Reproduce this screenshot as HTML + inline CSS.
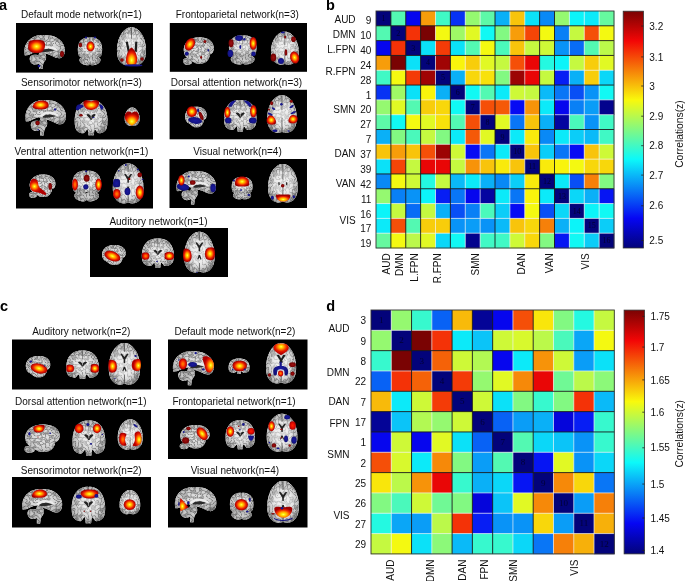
<!DOCTYPE html>
<html><head><meta charset="utf-8"><title>Figure</title>
<style>
html,body{margin:0;padding:0;background:#fff;}
body{width:685px;height:581px;overflow:hidden;}
svg{display:block;}
svg text{font-family:"Liberation Sans", Arial, Helvetica, sans-serif;}
</style></head><body>
<svg width="685" height="581" viewBox="0 0 685 581">
<defs>
<radialGradient id="hot" cx="50%" cy="50%" r="50%">
<stop offset="0" stop-color="#ffff50"/><stop offset="0.2" stop-color="#ffdc00"/>
<stop offset="0.45" stop-color="#ff8000"/><stop offset="0.72" stop-color="#e81800"/>
<stop offset="1" stop-color="#9a0000"/></radialGradient>
<radialGradient id="gm" cx="50%" cy="50%" r="55%">
<stop offset="0" stop-color="#e4e4e4"/><stop offset="0.55" stop-color="#d6d6d6"/>
<stop offset="0.85" stop-color="#bebebe"/><stop offset="1" stop-color="#a0a0a0"/></radialGradient>
<radialGradient id="gm2" cx="50%" cy="50%" r="55%">
<stop offset="0" stop-color="#cfcfcf"/><stop offset="1" stop-color="#b0b0b0"/></radialGradient>
<radialGradient id="hotlow" cx="50%" cy="68%" r="55%" fx="50%" fy="70%">
<stop offset="0" stop-color="#ffff60"/><stop offset="0.2" stop-color="#ffe400"/>
<stop offset="0.45" stop-color="#ff9000"/><stop offset="0.72" stop-color="#ee2000"/>
<stop offset="1" stop-color="#a00000"/></radialGradient>
<radialGradient id="hotl" cx="28%" cy="47%" r="42%">
<stop offset="0" stop-color="#ffff50"/><stop offset="0.16" stop-color="#ffdc00"/>
<stop offset="0.38" stop-color="#ff7000"/><stop offset="0.65" stop-color="#e01400"/>
<stop offset="1" stop-color="#b00000"/></radialGradient>
<radialGradient id="warm" cx="50%" cy="50%" r="50%">
<stop offset="0" stop-color="#ff8a00"/><stop offset="0.35" stop-color="#ff5000"/>
<stop offset="0.7" stop-color="#e01000"/><stop offset="1" stop-color="#a00000"/></radialGradient>
<radialGradient id="hottop" cx="50%" cy="28%" r="60%">
<stop offset="0" stop-color="#ffff60"/><stop offset="0.15" stop-color="#ffe000"/>
<stop offset="0.38" stop-color="#ff8000"/><stop offset="0.65" stop-color="#e81800"/>
<stop offset="1" stop-color="#b00000"/></radialGradient>
<radialGradient id="hotr" cx="72%" cy="55%" r="55%">
<stop offset="0" stop-color="#ffff60"/><stop offset="0.18" stop-color="#ffe000"/>
<stop offset="0.42" stop-color="#ff8000"/><stop offset="0.72" stop-color="#e81800"/>
<stop offset="1" stop-color="#b00000"/></radialGradient>
<radialGradient id="hotbl" cx="30%" cy="62%" r="55%">
<stop offset="0" stop-color="#ffff60"/><stop offset="0.18" stop-color="#ffe000"/>
<stop offset="0.42" stop-color="#ff8000"/><stop offset="0.72" stop-color="#e81800"/>
<stop offset="1" stop-color="#b00000"/></radialGradient>
<radialGradient id="redb" cx="50%" cy="50%" r="50%">
<stop offset="0" stop-color="#ff2000"/><stop offset="0.6" stop-color="#e00800"/>
<stop offset="1" stop-color="#a00000"/></radialGradient>
<radialGradient id="dred" cx="50%" cy="50%" r="50%">
<stop offset="0" stop-color="#a01010"/><stop offset="1" stop-color="#700000"/></radialGradient>
<radialGradient id="blu" cx="50%" cy="50%" r="50%">
<stop offset="0" stop-color="#1a1aa0"/><stop offset="1" stop-color="#12127a"/></radialGradient>
<linearGradient id="jet" x1="0" y1="0" x2="0" y2="1"><stop offset="0.0000" stop-color="#7a0303"/><stop offset="0.0625" stop-color="#b60404"/><stop offset="0.1250" stop-color="#f30606"/><stop offset="0.1875" stop-color="#f54307"/><stop offset="0.2500" stop-color="#f68009"/><stop offset="0.3125" stop-color="#f8bc0a"/><stop offset="0.3750" stop-color="#f9f90c"/><stop offset="0.4375" stop-color="#bef947"/><stop offset="0.5000" stop-color="#82f982"/><stop offset="0.5625" stop-color="#47f9be"/><stop offset="0.6250" stop-color="#0cf9f9"/><stop offset="0.6875" stop-color="#0abcf8"/><stop offset="0.7500" stop-color="#0980f6"/><stop offset="0.8125" stop-color="#0743f5"/><stop offset="0.8750" stop-color="#0606f3"/><stop offset="0.9375" stop-color="#0404b6"/><stop offset="1.0000" stop-color="#03037a"/></linearGradient>
<filter id="tex" x="0" y="0" width="1" height="1" color-interpolation-filters="sRGB">
<feTurbulence type="turbulence" baseFrequency="0.10" numOctaves="1" seed="7" result="t"/>
<feColorMatrix in="t" type="matrix" values="1.6 0 0 0 0.64  1.6 0 0 0 0.64  1.6 0 0 0 0.64  0 0 0 0 1" result="g0"/>
<feGaussianBlur in="g0" stdDeviation="1.3" result="g"/>
<feComposite in="g" in2="SourceAlpha" operator="in" result="g2"/>
<feBlend in="g2" in2="SourceGraphic" mode="multiply"/>
</filter>
<filter id="wm" x="-50%" y="-50%" width="200%" height="200%"><feGaussianBlur stdDeviation="7"/></filter>
</defs>
<rect x="0" y="0" width="685" height="581" fill="#fff"/>

<text x="-1.0" y="9.9" font-size="14.5" font-weight="bold" fill="#000">a</text>
<text x="326.0" y="10.0" font-size="14.5" font-weight="bold" fill="#000">b</text>
<text x="0.0" y="310.8" font-size="14.5" font-weight="bold" fill="#000">c</text>
<text x="326.2" y="310.9" font-size="14.5" font-weight="bold" fill="#000">d</text>
<rect x="16.00" y="23.00" width="137.00" height="49.60" fill="#000"/>
<text x="81.50" y="18.00" font-size="10" fill="#111" text-anchor="middle">Default mode network(n=1)</text>
<g transform="translate(16.00,23.00)">
<g transform="translate(8.00,12.00) scale(0.4100,0.3400)">
<g filter="url(#tex)">
<path d="M2,60 C0,50 1,38 3,32 C6,22 12,12 24,5 C32,1 40,0 50,0 C60,0 70,1 80,8 C90,15 97,25 99,38 C100,48 99,58 95,63 C91,68 86,69 82,68 C76,66 72,63 66,60 C60,57 54,55 48,54 C42,53 37,50 33,48 C28,50 22,52 17,55 C12,58 7,61 2,60 Z" fill="url(#gm)"/>
<path d="M14,70 C14,60 22,57 30,58 C38,59 42,66 41,74 C40,82 35,87 27,87 C19,87 14,80 14,70 Z" fill="url(#gm2)"/>
<path d="M37,52 C43,50 51,52 53,58 C55,65 54,73 50,78 L47,84 L45,100 L37,100 L37,84 C35,76 34,62 37,52 Z" fill="url(#gm2)"/>
</g>
<path d="M43,46 C50,39 64,38 75,45 C66,49 54,51 43,49 Z" fill="#2a2a2a"/>
<path d="M36,44 C44,30 64,28 80,40 C83,43 82,47 78,46 C66,36 50,36 40,47 Z" fill="#ececec"/>
</g>
<g transform="translate(61.00,14.00) scale(0.2600,0.2900)">
<g filter="url(#tex)">
<path d="M50,3 C38,0 18,4 8,20 C2,32 2,50 6,62 C10,70 20,72 30,70 L50,68 L70,70 C80,72 90,70 94,62 C98,50 98,32 92,20 C82,4 62,0 50,3 Z" fill="url(#gm)"/>
<path d="M10,76 C14,67 40,67 50,71 C60,67 86,67 90,76 C94,88 76,99 56,97 L50,93 L44,97 C24,99 6,88 10,76 Z" fill="url(#gm2)"/>
</g>
<ellipse cx="50" cy="38" rx="30" ry="20" fill="#fff" opacity="0.4" filter="url(#wm)"/>
<path d="M50,3 L50,30" stroke="#555" stroke-width="2"/>
</g>
<g transform="translate(100.00,4.00) scale(0.3100,0.3900)">
<g filter="url(#tex)">
<path d="M50,1 C62,0 76,8 86,22 C95,36 99,54 96,72 C93,88 80,99 62,99 L50,97 L38,99 C20,99 7,88 4,72 C1,54 5,36 14,22 C24,8 38,0 50,1 Z" fill="url(#gm)"/>
</g>
<ellipse cx="50" cy="52" rx="33" ry="35" fill="#fff" opacity="0.5" filter="url(#wm)"/>
<path d="M50,2 L50,30 M50,80 L50,97" stroke="#4a4a4a" stroke-width="2"/>
<path d="M31,38 L38,37 L45,62 L38,65 Z M62,37 L69,38 L67,65 L60,62 Z" fill="#1c1c1c"/>
</g>
<path d="M12.5,20 C13,17 18,16.5 24,17 C28,17.5 29.5,19 29,23 C28.5,27 27,30 22,30 C16,30.5 12.5,28 12,25 Z" fill="url(#hot)"/>
<ellipse cx="46.00" cy="31.00" rx="2.00" ry="3.00" fill="url(#dred)"/>
<ellipse cx="23.00" cy="43.00" rx="1.30" ry="1.30" fill="url(#blu)"/>
<ellipse cx="74.50" cy="23.50" rx="4.00" ry="5.00" fill="url(#hot)"/>
<ellipse cx="64.40" cy="22.00" rx="1.80" ry="2.20" fill="url(#dred)"/>
<ellipse cx="70.00" cy="14.50" rx="1.20" ry="1.00" fill="url(#blu)"/>
<ellipse cx="79.00" cy="14.50" rx="1.20" ry="1.00" fill="url(#blu)"/>
<path d="M115.5,24.5 C118.5,26 121.5,32 121.2,37 C121,41 118.5,42.8 115.5,42.8 C112.5,42.8 110,41 110,37 C110,32 112.5,26 115.5,24.5 Z" fill="url(#hotlow)"/>
<ellipse cx="106.00" cy="37.00" rx="1.80" ry="1.80" fill="url(#dred)"/>
<ellipse cx="126.00" cy="36.00" rx="1.80" ry="1.80" fill="url(#dred)"/>
<ellipse cx="117.50" cy="42.40" rx="9.00" ry="1.10" fill="url(#blu)"/>
</g>
<rect x="169.80" y="23.00" width="137.20" height="48.80" fill="#000"/>
<text x="237.25" y="18.00" font-size="10" fill="#111" text-anchor="middle">Frontoparietal network(n=3)</text>
<g transform="translate(169.80,23.00)">
<g transform="translate(12.80,13.70) scale(0.3170,0.2900)">
<g filter="url(#tex)">
<path d="M4,50 C2,34 10,16 26,8 C42,0 64,0 80,8 C93,15 100,29 98,44 C97,53 93,59 86,61 C85,72 80,84 70,90 C60,95 46,95 38,90 C30,85 26,80 20,76 C10,72 5,62 4,50 Z" fill="url(#gm)"/>
<path d="M2,82 C2,74 12,72 22,76 C30,80 32,88 28,92 C22,98 10,98 5,93 C2,90 1,86 2,82 Z" fill="url(#gm2)"/>
</g>
</g>
<g transform="translate(58.20,11.80) scale(0.2940,0.3050)">
<g filter="url(#tex)">
<path d="M50,3 C38,0 18,4 8,20 C2,32 2,50 6,62 C10,70 20,72 30,70 L50,68 L70,70 C80,72 90,70 94,62 C98,50 98,32 92,20 C82,4 62,0 50,3 Z" fill="url(#gm)"/>
<path d="M10,76 C14,67 40,67 50,71 C60,67 86,67 90,76 C94,88 76,99 56,97 L50,93 L44,97 C24,99 6,88 10,76 Z" fill="url(#gm2)"/>
</g>
<ellipse cx="50" cy="38" rx="30" ry="20" fill="#fff" opacity="0.4" filter="url(#wm)"/>
<path d="M50,3 L50,30" stroke="#555" stroke-width="2"/>
</g>
<g transform="translate(100.30,8.50) scale(0.2950,0.3350)">
<g filter="url(#tex)">
<path d="M50,1 C62,0 76,8 86,22 C95,36 99,54 96,72 C93,88 80,99 62,99 L50,97 L38,99 C20,99 7,88 4,72 C1,54 5,36 14,22 C24,8 38,0 50,1 Z" fill="url(#gm)"/>
</g>
<ellipse cx="50" cy="52" rx="33" ry="35" fill="#fff" opacity="0.5" filter="url(#wm)"/>
<path d="M50,2 L50,40 M50,60 L50,97" stroke="#4a4a4a" stroke-width="2"/>
</g>
<ellipse cx="20.20" cy="21.30" rx="4.60" ry="6.60" fill="url(#hot)" transform="rotate(30.0 20.20 21.30)"/>
<ellipse cx="17.00" cy="30.70" rx="2.00" ry="2.00" fill="url(#blu)"/>
<ellipse cx="35.10" cy="18.40" rx="1.50" ry="1.50" fill="url(#dred)"/>
<ellipse cx="38.50" cy="27.30" rx="0.70" ry="1.30" fill="url(#blu)"/>
<ellipse cx="31.30" cy="34.20" rx="1.00" ry="1.50" fill="url(#dred)"/>
<ellipse cx="69.30" cy="15.10" rx="3.90" ry="2.80" fill="url(#blu)"/>
<ellipse cx="83.40" cy="20.40" rx="3.60" ry="6.40" fill="url(#hot)"/>
<ellipse cx="61.30" cy="20.20" rx="2.50" ry="4.00" fill="url(#dred)"/>
<ellipse cx="60.50" cy="30.40" rx="2.80" ry="3.60" fill="url(#blu)"/>
<ellipse cx="83.70" cy="30.90" rx="2.30" ry="2.30" fill="url(#blu)"/>
<ellipse cx="74.60" cy="16.20" rx="1.20" ry="1.20" fill="url(#blu)"/>
<ellipse cx="70.50" cy="23.90" rx="1.00" ry="2.00" fill="url(#blu)"/>
<ellipse cx="124.80" cy="34.50" rx="4.50" ry="6.10" fill="url(#hot)" transform="rotate(-15.0 124.80 34.50)"/>
<ellipse cx="103.60" cy="34.50" rx="2.80" ry="3.90" fill="url(#dred)"/>
<ellipse cx="111.20" cy="38.10" rx="3.00" ry="3.00" fill="url(#blu)"/>
<ellipse cx="123.70" cy="16.20" rx="2.30" ry="2.80" fill="url(#dred)"/>
<ellipse cx="115.30" cy="14.00" rx="1.00" ry="1.50" fill="url(#dred)"/>
<ellipse cx="116.10" cy="29.50" rx="1.30" ry="3.30" fill="url(#dred)"/>
<ellipse cx="113.00" cy="9.50" rx="2.00" ry="1.00" fill="url(#blu)"/>
</g>
<rect x="16.00" y="90.00" width="137.00" height="49.50" fill="#000"/>
<text x="81.40" y="86.20" font-size="10" fill="#111" text-anchor="middle">Sensorimotor network(n=3)</text>
<g transform="translate(16.00,90.00)">
<g transform="translate(9.10,10.10) scale(0.4100,0.3550)">
<g filter="url(#tex)">
<path d="M2,60 C0,50 1,38 3,32 C6,22 12,12 24,5 C32,1 40,0 50,0 C60,0 70,1 80,8 C90,15 97,25 99,38 C100,48 99,58 95,63 C91,68 86,69 82,68 C76,66 72,63 66,60 C60,57 54,55 48,54 C42,53 37,50 33,48 C28,50 22,52 17,55 C12,58 7,61 2,60 Z" fill="url(#gm)"/>
<path d="M14,70 C14,60 22,57 30,58 C38,59 42,66 41,74 C40,82 35,87 27,87 C19,87 14,80 14,70 Z" fill="url(#gm2)"/>
<path d="M37,52 C43,50 51,52 53,58 C55,65 54,73 50,78 L47,84 L45,100 L37,100 L37,84 C35,76 34,62 37,52 Z" fill="url(#gm2)"/>
</g>
<path d="M43,46 C50,39 64,38 75,45 C66,49 54,51 43,49 Z" fill="#2a2a2a"/>
<path d="M36,44 C44,30 64,28 80,40 C83,43 82,47 78,46 C66,36 50,36 40,47 Z" fill="#ececec"/>
</g>
<g transform="translate(58.40,9.90) scale(0.3340,0.3560)">
<g filter="url(#tex)">
<path d="M50,2 C40,0 28,4 20,10 C10,18 4,30 2,44 C0,56 0,68 3,78 C6,88 16,94 26,94 C30,94 33,90 35,86 L40,82 L42,99 L58,99 L60,82 L65,86 C67,90 70,94 74,94 C84,94 94,88 97,78 C100,68 100,56 98,44 C96,30 90,18 80,10 C72,4 60,0 50,2 Z" fill="url(#gm)"/>
</g>
<ellipse cx="50" cy="48" rx="30" ry="26" fill="#fff" opacity="0.4" filter="url(#wm)"/>
<path d="M50,3 L50,30" stroke="#555" stroke-width="2"/>
<path d="M36,42 C40,38 46,40 49,46 L49,52 L51,52 L51,46 C54,40 60,38 64,42 C60,48 54,50 52,56 L48,56 C46,50 40,48 36,42 Z" fill="#222"/>
</g>
<g transform="translate(108.20,17.40) scale(0.1590,0.1850)">
<g filter="url(#tex)">
<path d="M50,1 C62,0 76,8 86,22 C95,36 99,54 96,72 C93,88 80,99 62,99 L50,97 L38,99 C20,99 7,88 4,72 C1,54 5,36 14,22 C24,8 38,0 50,1 Z" fill="url(#gm)"/>
</g>
<ellipse cx="50" cy="52" rx="33" ry="35" fill="#fff" opacity="0.5" filter="url(#wm)"/>
<path d="M50,2 L50,40 M50,60 L50,97" stroke="#4a4a4a" stroke-width="2"/>
</g>
<path d="M16.5,17 C17,13 21,10.5 26,10.4 C30,10.4 32.6,12 32.6,15 C32.6,18 30,19.5 26,19.4 C22,19.4 18,19.5 16.5,17 Z" fill="url(#hot)"/>
<ellipse cx="21.60" cy="33.00" rx="2.20" ry="2.20" fill="url(#dred)"/>
<ellipse cx="39.10" cy="19.40" rx="1.20" ry="1.20" fill="url(#blu)"/>
<ellipse cx="22.20" cy="39.70" rx="0.80" ry="0.80" fill="url(#blu)"/>
<path d="M60,20 C59.5,17 61,14.5 63.5,14.3 C66,14.2 67.7,15.5 67.7,17 C66,17.5 64,18.5 62.5,20.3 Z" fill="url(#blu)"/>
<path d="M83,14.3 C85,14.2 87.4,15.5 87.4,17.5 C87.2,19 86,19.8 85,19.8 C84.5,18 83.5,16.5 83,14.3 Z" fill="url(#blu)"/>
<path d="M67.5,12 C68,9.8 72,9.6 75,11.5 C78,9.6 82.5,9.8 83,12 C83.5,15 81,18.5 78,19.6 C76.5,20.2 73.5,20.2 72,19.6 C69,18.5 67,15 67.5,12 Z" fill="url(#hot)"/>
<ellipse cx="65.00" cy="25.30" rx="1.70" ry="1.30" fill="url(#dred)"/>
<ellipse cx="77.50" cy="27.50" rx="1.00" ry="0.60" fill="url(#blu)"/>
<path d="M115.9,35.7 C113,34 108.7,31 108.7,26.5 C108.7,23 111,21.4 113.3,21.6 C114.7,21.7 115.5,22.6 115.9,23.6 C116.3,22.6 117.2,21.7 118.6,21.6 C121,21.4 123,23 123,26.5 C123,31 118.8,34 115.9,35.7 Z" fill="url(#hotlow)"/>
</g>
<rect x="169.60" y="89.80" width="137.40" height="49.50" fill="#000"/>
<text x="236.45" y="86.20" font-size="10" fill="#111" text-anchor="middle">Dorsal attention network(n=3)</text>
<g transform="translate(169.60,89.80)">
<g transform="translate(14.70,16.40) scale(0.2270,0.2250)">
<g filter="url(#tex)">
<path d="M4,50 C2,34 10,16 26,8 C42,0 64,0 80,8 C93,15 100,29 98,44 C97,53 93,59 86,61 C85,72 80,84 70,90 C60,95 46,95 38,90 C30,85 26,80 20,76 C10,72 5,62 4,50 Z" fill="url(#gm)"/>
</g>
</g>
<g transform="translate(54.20,9.80) scale(0.3290,0.3230)">
<g filter="url(#tex)">
<path d="M50,2 C40,0 28,4 20,10 C10,18 4,30 2,44 C0,56 0,68 3,78 C6,88 16,94 26,94 C30,94 33,90 35,86 L40,82 L42,99 L58,99 L60,82 L65,86 C67,90 70,94 74,94 C84,94 94,88 97,78 C100,68 100,56 98,44 C96,30 90,18 80,10 C72,4 60,0 50,2 Z" fill="url(#gm)"/>
</g>
<ellipse cx="50" cy="48" rx="30" ry="26" fill="#fff" opacity="0.4" filter="url(#wm)"/>
<path d="M50,3 L50,30" stroke="#555" stroke-width="2"/>
<path d="M36,42 C40,38 46,40 49,46 L49,52 L51,52 L51,46 C54,40 60,38 64,42 C60,48 54,50 52,56 L48,56 C46,50 40,48 36,42 Z" fill="#222"/>
</g>
<g transform="translate(96.70,5.00) scale(0.3140,0.3830)">
<g filter="url(#tex)">
<path d="M50,1 C62,0 76,8 86,22 C95,36 99,54 96,72 C93,88 80,99 62,99 L50,97 L38,99 C20,99 7,88 4,72 C1,54 5,36 14,22 C24,8 38,0 50,1 Z" fill="url(#gm)"/>
</g>
<ellipse cx="50" cy="52" rx="33" ry="35" fill="#fff" opacity="0.5" filter="url(#wm)"/>
<path d="M50,2 L50,40 M50,60 L50,97" stroke="#4a4a4a" stroke-width="2"/>
</g>
<ellipse cx="25.50" cy="30.70" rx="7.00" ry="3.30" fill="url(#blu)" transform="rotate(8.0 25.50 30.70)"/>
<ellipse cx="22.20" cy="21.80" rx="5.10" ry="5.40" fill="url(#hot)"/>
<ellipse cx="31.50" cy="26.20" rx="1.80" ry="4.40" fill="url(#dred)" transform="rotate(-20.0 31.50 26.20)"/>
<ellipse cx="28.50" cy="20.60" rx="1.00" ry="2.00" fill="url(#blu)"/>
<path d="M59,17 C59.5,13 62,10.6 66.8,10.4 C66,12 63.5,13.5 62,17 Z" fill="url(#blu)"/>
<path d="M82.3,17 C81.8,13 79,10.6 73.9,10.4 C74.5,12 77.5,13.5 79.5,17 Z" fill="url(#blu)"/>
<ellipse cx="57.80" cy="22.70" rx="3.00" ry="5.70" fill="url(#hot)"/>
<ellipse cx="83.80" cy="21.50" rx="3.30" ry="6.30" fill="url(#hot)"/>
<ellipse cx="58.70" cy="30.70" rx="3.30" ry="3.00" fill="url(#blu)"/>
<ellipse cx="83.20" cy="30.70" rx="3.90" ry="3.00" fill="url(#blu)"/>
<path d="M98.5,27 C99,25 102,25 104,27 C106,29 107,32 106,34 C104,35.5 99,35 97.5,33 C96.5,31 97,28.5 98.5,27 Z" fill="url(#hot)"/>
<path d="M122,25.5 C124.5,24.5 127.5,25.5 128,28 C128.5,31 127,33.5 124,33.6 C121,33.7 118.5,33 118.8,31 C119,29 120,26.5 122,25.5 Z" fill="url(#hot)"/>
<ellipse cx="103.80" cy="18.80" rx="2.00" ry="0.90" fill="url(#blu)" transform="rotate(30.0 103.80 18.80)"/>
<ellipse cx="100.60" cy="24.30" rx="2.80" ry="1.00" fill="url(#blu)" transform="rotate(25.0 100.60 24.30)"/>
<ellipse cx="122.00" cy="16.80" rx="2.50" ry="1.00" fill="url(#blu)" transform="rotate(-35.0 122.00 16.80)"/>
<ellipse cx="123.70" cy="22.80" rx="3.00" ry="1.00" fill="url(#blu)" transform="rotate(-25.0 123.70 22.80)"/>
<ellipse cx="111.80" cy="14.50" rx="1.30" ry="1.30" fill="url(#blu)"/>
<ellipse cx="105.40" cy="41.00" rx="2.50" ry="1.20" fill="url(#blu)"/>
<ellipse cx="119.00" cy="41.20" rx="1.20" ry="0.80" fill="url(#blu)"/>
<ellipse cx="102.00" cy="13.40" rx="1.50" ry="2.00" fill="url(#dred)"/>
<ellipse cx="121.70" cy="11.50" rx="1.50" ry="1.50" fill="url(#dred)"/>
<ellipse cx="99.30" cy="19.80" rx="1.00" ry="1.00" fill="url(#dred)"/>
</g>
<rect x="16.00" y="159.00" width="137.00" height="49.50" fill="#000"/>
<text x="81.45" y="154.60" font-size="10" fill="#111" text-anchor="middle">Ventral attention network(n=1)</text>
<g transform="translate(16.00,159.00)">
<g transform="translate(12.70,15.10) scale(0.2720,0.2450)">
<g filter="url(#tex)">
<path d="M4,50 C2,34 10,16 26,8 C42,0 64,0 80,8 C93,15 100,29 98,44 C97,53 93,59 86,61 C85,72 80,84 70,90 C60,95 46,95 38,90 C30,85 26,80 20,76 C10,72 5,62 4,50 Z" fill="url(#gm)"/>
<path d="M2,82 C2,74 12,72 22,76 C30,80 32,88 28,92 C22,98 10,98 5,93 C2,90 1,86 2,82 Z" fill="url(#gm2)"/>
</g>
</g>
<g transform="translate(55.50,11.20) scale(0.3040,0.3210)">
<g filter="url(#tex)">
<path d="M50,3 C38,0 18,4 8,20 C2,32 2,50 6,62 C10,70 20,72 30,70 L50,68 L70,70 C80,72 90,70 94,62 C98,50 98,32 92,20 C82,4 62,0 50,3 Z" fill="url(#gm)"/>
<path d="M10,76 C14,67 40,67 50,71 C60,67 86,67 90,76 C94,88 76,99 56,97 L50,93 L44,97 C24,99 6,88 10,76 Z" fill="url(#gm2)"/>
</g>
<ellipse cx="50" cy="38" rx="30" ry="20" fill="#fff" opacity="0.4" filter="url(#wm)"/>
<path d="M50,3 L50,30" stroke="#555" stroke-width="2"/>
</g>
<g transform="translate(95.80,4.20) scale(0.3270,0.4080)">
<g filter="url(#tex)">
<path d="M50,1 C62,0 76,8 86,22 C95,36 99,54 96,72 C93,88 80,99 62,99 L50,97 L38,99 C20,99 7,88 4,72 C1,54 5,36 14,22 C24,8 38,0 50,1 Z" fill="url(#gm)"/>
</g>
<ellipse cx="50" cy="52" rx="33" ry="35" fill="#fff" opacity="0.5" filter="url(#wm)"/>
<path d="M50,2 L50,22 M50,76 L50,97" stroke="#4a4a4a" stroke-width="2"/>
<path d="M38,27 L42,26 L50,34 L58,26 L62,27 L52.5,40 L52,48 L48,48 L47.5,40 Z M48,57 L52,57 L56,66 L54,68 L50,62 L46,68 L44,66 Z" fill="#222"/>
</g>
<path d="M14,24.2 C14.3,20.8 16.3,19.6 18.5,19.8 C20.8,20 22.1,22 22.2,25 C22.3,27 23.3,28.5 25.8,30.3 C28.2,32.2 30,33.6 30.3,34.8 C30.5,35.8 29.5,36.2 28.2,35.7 C25.5,34.7 22.5,33.3 19.6,33 C16.5,32.7 14,30.4 13.9,27.2 Z" fill="url(#hotl)"/>
<ellipse cx="34.20" cy="27.40" rx="1.80" ry="3.40" fill="url(#dred)"/>
<ellipse cx="59.00" cy="25.50" rx="2.90" ry="6.10" fill="url(#warm)"/>
<ellipse cx="82.60" cy="25.50" rx="3.30" ry="6.10" fill="url(#hot)"/>
<ellipse cx="70.70" cy="19.30" rx="2.90" ry="3.50" fill="url(#dred)"/>
<ellipse cx="69.80" cy="27.80" rx="2.60" ry="2.60" fill="url(#blu)"/>
<ellipse cx="70.10" cy="12.30" rx="1.00" ry="1.00" fill="url(#blu)"/>
<path d="M97.5,21 C98,19.8 103,19.8 103.8,21 C104.3,23 104.3,26 103.8,27.4 C103,28.4 98,28.4 97.3,27.4 C96.8,26 96.8,23 97.5,21 Z" fill="url(#blu)"/>
<ellipse cx="100.80" cy="34.90" rx="3.80" ry="5.00" fill="url(#warm)"/>
<ellipse cx="123.80" cy="33.40" rx="4.10" ry="7.00" fill="url(#hot)"/>
<ellipse cx="111.50" cy="32.50" rx="2.90" ry="3.80" fill="url(#blu)"/>
<ellipse cx="123.80" cy="15.90" rx="2.30" ry="2.30" fill="url(#dred)"/>
<ellipse cx="113.30" cy="19.90" rx="1.20" ry="1.20" fill="url(#dred)"/>
<ellipse cx="109.80" cy="6.00" rx="1.00" ry="1.00" fill="url(#blu)"/>
<ellipse cx="102.80" cy="11.80" rx="0.80" ry="0.80" fill="url(#blu)"/>
<ellipse cx="122.00" cy="10.60" rx="1.00" ry="1.00" fill="url(#blu)"/>
<ellipse cx="126.70" cy="20.50" rx="0.80" ry="0.80" fill="url(#blu)"/>
</g>
<rect x="169.50" y="159.00" width="137.50" height="49.00" fill="#000"/>
<text x="237.50" y="154.60" font-size="10" fill="#111" text-anchor="middle">Visual network(n=4)</text>
<g transform="translate(169.50,159.00)">
<g transform="translate(6.60,12.00) scale(0.4020,0.3350)">
<g filter="url(#tex)">
<path d="M2,60 C0,50 1,38 3,32 C6,22 12,12 24,5 C32,1 40,0 50,0 C60,0 70,1 80,8 C90,15 97,25 99,38 C100,48 99,58 95,63 C91,68 86,69 82,68 C76,66 72,63 66,60 C60,57 54,55 48,54 C42,53 37,50 33,48 C28,50 22,52 17,55 C12,58 7,61 2,60 Z" fill="url(#gm)"/>
<path d="M14,70 C14,60 22,57 30,58 C38,59 42,66 41,74 C40,82 35,87 27,87 C19,87 14,80 14,70 Z" fill="url(#gm2)"/>
<path d="M37,52 C43,50 51,52 53,58 C55,65 54,73 50,78 L47,84 L45,100 L37,100 L37,84 C35,76 34,62 37,52 Z" fill="url(#gm2)"/>
</g>
<path d="M43,46 C50,39 64,38 75,45 C66,49 54,51 43,49 Z" fill="#2a2a2a"/>
<path d="M36,44 C44,30 64,28 80,40 C83,43 82,47 78,46 C66,36 50,36 40,47 Z" fill="#ececec"/>
</g>
<g transform="translate(61.50,17.60) scale(0.2220,0.2340)">
<g filter="url(#tex)">
<path d="M50,3 C38,0 18,4 8,20 C2,32 2,50 6,62 C10,70 20,72 30,70 L50,68 L70,70 C80,72 90,70 94,62 C98,50 98,32 92,20 C82,4 62,0 50,3 Z" fill="url(#gm)"/>
<path d="M10,76 C14,67 40,67 50,71 C60,67 86,67 90,76 C94,88 76,99 56,97 L50,93 L44,97 C24,99 6,88 10,76 Z" fill="url(#gm2)"/>
</g>
<ellipse cx="50" cy="38" rx="30" ry="20" fill="#fff" opacity="0.4" filter="url(#wm)"/>
<path d="M50,3 L50,30" stroke="#555" stroke-width="2"/>
</g>
<g transform="translate(97.60,4.60) scale(0.3160,0.3930)">
<g filter="url(#tex)">
<path d="M50,1 C62,0 76,8 86,22 C95,36 99,54 96,72 C93,88 80,99 62,99 L50,97 L38,99 C20,99 7,88 4,72 C1,54 5,36 14,22 C24,8 38,0 50,1 Z" fill="url(#gm)"/>
</g>
<ellipse cx="50" cy="52" rx="33" ry="35" fill="#fff" opacity="0.5" filter="url(#wm)"/>
<path d="M50,2 L50,40 M50,60 L50,97" stroke="#4a4a4a" stroke-width="2"/>
</g>
<ellipse cx="13.50" cy="28.00" rx="6.30" ry="3.50" fill="url(#blu)" transform="rotate(10.0 13.50 28.00)"/>
<ellipse cx="11.90" cy="21.30" rx="3.20" ry="5.20" fill="url(#hot)"/>
<ellipse cx="23.20" cy="23.50" rx="2.80" ry="2.30" fill="url(#dred)"/>
<ellipse cx="43.60" cy="29.00" rx="2.80" ry="4.20" fill="url(#blu)"/>
<ellipse cx="19.30" cy="17.60" rx="1.00" ry="1.00" fill="url(#blu)"/>
<path d="M65.4,25 C65.4,20 68.5,17.6 72.6,17.6 C76.7,17.6 79.8,20 79.8,25 C79.8,27 78,27.6 72.6,27.6 C67.2,27.6 65.4,27 65.4,25 Z" fill="url(#hot)"/>
<ellipse cx="64.30" cy="21.50" rx="1.00" ry="1.00" fill="url(#blu)"/>
<ellipse cx="71.50" cy="31.00" rx="1.20" ry="0.80" fill="url(#blu)"/>
<ellipse cx="79.30" cy="36.00" rx="1.50" ry="1.00" fill="url(#blu)"/>
<path d="M106.4,36 C106.4,35.4 120.9,35.4 120.9,36 C121,40 118,42.6 113.6,42.6 C109.2,42.6 106.3,40 106.4,36 Z" fill="url(#hotlow)"/>
<ellipse cx="113.20" cy="26.70" rx="1.80" ry="1.80" fill="url(#dred)"/>
<ellipse cx="102.90" cy="38.70" rx="1.50" ry="2.00" fill="url(#blu)"/>
<ellipse cx="124.30" cy="37.80" rx="1.20" ry="1.50" fill="url(#blu)"/>
<path d="M108.9,23.3 L110,23.3 L110.2,26 L109,26.2 Z M116.6,23.3 L117.7,23.3 L117.8,26.2 L116.7,26 Z" fill="#1a1a1a"/>
</g>
<rect x="90.00" y="228.00" width="138.00" height="49.00" fill="#000"/>
<text x="158.45" y="224.50" font-size="10" fill="#111" text-anchor="middle">Auditory network(n=1)</text>
<g transform="translate(90.00,228.00)">
<g transform="translate(11.10,16.60) scale(0.2500,0.2180)">
<g filter="url(#tex)">
<path d="M4,50 C2,34 10,16 26,8 C42,0 64,0 80,8 C93,15 100,29 98,44 C97,53 93,59 86,61 C85,72 80,84 70,90 C60,95 46,95 38,90 C30,85 26,80 20,76 C10,72 5,62 4,50 Z" fill="url(#gm)"/>
</g>
</g>
<g transform="translate(51.60,10.00) scale(0.3250,0.2980)">
<g filter="url(#tex)">
<path d="M50,2 C40,0 28,4 20,10 C10,18 4,30 2,44 C0,56 0,68 3,78 C6,88 16,94 26,94 C30,94 33,90 35,86 L40,82 L42,99 L58,99 L60,82 L65,86 C67,90 70,94 74,94 C84,94 94,88 97,78 C100,68 100,56 98,44 C96,30 90,18 80,10 C72,4 60,0 50,2 Z" fill="url(#gm)"/>
</g>
<ellipse cx="50" cy="48" rx="30" ry="26" fill="#fff" opacity="0.4" filter="url(#wm)"/>
<path d="M50,3 L50,30" stroke="#555" stroke-width="2"/>
<path d="M36,42 C40,38 46,40 49,46 L49,52 L51,52 L51,46 C54,40 60,38 64,42 C60,48 54,50 52,56 L48,56 C46,50 40,48 36,42 Z" fill="#222"/>
</g>
<g transform="translate(93.20,3.40) scale(0.3240,0.4160)">
<g filter="url(#tex)">
<path d="M50,1 C62,0 76,8 86,22 C95,36 99,54 96,72 C93,88 80,99 62,99 L50,97 L38,99 C20,99 7,88 4,72 C1,54 5,36 14,22 C24,8 38,0 50,1 Z" fill="url(#gm)"/>
</g>
<ellipse cx="50" cy="52" rx="33" ry="35" fill="#fff" opacity="0.5" filter="url(#wm)"/>
<path d="M50,2 L50,22 M50,76 L50,97" stroke="#4a4a4a" stroke-width="2"/>
<path d="M38,27 L42,26 L50,34 L58,26 L62,27 L52.5,40 L52,48 L48,48 L47.5,40 Z M48,57 L52,57 L56,66 L54,68 L50,62 L46,68 L44,66 Z" fill="#222"/>
</g>
<ellipse cx="22.40" cy="28.10" rx="8.30" ry="4.80" fill="url(#hot)" transform="rotate(22.0 22.40 28.10)"/>
<path d="M52,26 C52,24.6 53.5,24.4 55.7,24.4 C58,24.4 59.4,25 59.4,28 C59.4,31 58,31.7 55.7,31.7 C53.5,31.7 52,31.4 52,30 Z" fill="url(#warm)"/>
<path d="M74.6,26 C74.6,24.2 77,23.9 79.3,23.9 C82,23.9 84.1,24.5 84.1,28 C84.1,31.5 82,32 79.3,32 C77,32 74.6,31.6 74.6,30 Z" fill="url(#hot)"/>
<ellipse cx="67.00" cy="33.30" rx="1.00" ry="0.60" fill="url(#blu)"/>
<path d="M94,21 C96,20 99,21 100.5,23 C102,26 102,30 100.5,32.5 C99,34.3 96,34.5 94,33 C92.6,31 92.6,23 94,21 Z" fill="url(#hot)"/>
<path d="M124,20 C122,18.5 118,19 116,21.5 C114.6,24 114.6,28 116,30.5 C118,32.6 122,32.8 124,31 C125.4,28 125.4,23 124,20 Z" fill="url(#hot)"/>
<ellipse cx="107.00" cy="44.20" rx="0.80" ry="0.50" fill="url(#blu)"/>
</g>
<rect x="12.00" y="339.50" width="139.00" height="50.00" fill="#000"/>
<text x="81.25" y="334.80" font-size="10" fill="#111" text-anchor="middle">Auditory network(n=2)</text>
<g transform="translate(12.00,339.50)">
<g transform="translate(12.90,16.00) scale(0.2580,0.2330)">
<g filter="url(#tex)">
<path d="M4,50 C2,34 10,16 26,8 C42,0 64,0 80,8 C93,15 100,29 98,44 C97,53 93,59 86,61 C85,72 80,84 70,90 C60,95 46,95 38,90 C30,85 26,80 20,76 C10,72 5,62 4,50 Z" fill="url(#gm)"/>
</g>
</g>
<g transform="translate(54.00,10.50) scale(0.3310,0.2940)">
<g filter="url(#tex)">
<path d="M50,2 C40,0 28,4 20,10 C10,18 4,30 2,44 C0,56 0,68 3,78 C6,88 16,94 26,94 C30,94 33,90 35,86 L40,82 L42,99 L58,99 L60,82 L65,86 C67,90 70,94 74,94 C84,94 94,88 97,78 C100,68 100,56 98,44 C96,30 90,18 80,10 C72,4 60,0 50,2 Z" fill="url(#gm)"/>
</g>
<ellipse cx="50" cy="48" rx="30" ry="26" fill="#fff" opacity="0.4" filter="url(#wm)"/>
<path d="M50,3 L50,30" stroke="#555" stroke-width="2"/>
<path d="M36,42 C40,38 46,40 49,46 L49,52 L51,52 L51,46 C54,40 60,38 64,42 C60,48 54,50 52,56 L48,56 C46,50 40,48 36,42 Z" fill="#222"/>
</g>
<g transform="translate(95.80,3.00) scale(0.3330,0.4260)">
<g filter="url(#tex)">
<path d="M50,1 C62,0 76,8 86,22 C95,36 99,54 96,72 C93,88 80,99 62,99 L50,97 L38,99 C20,99 7,88 4,72 C1,54 5,36 14,22 C24,8 38,0 50,1 Z" fill="url(#gm)"/>
</g>
<ellipse cx="50" cy="52" rx="33" ry="35" fill="#fff" opacity="0.5" filter="url(#wm)"/>
<path d="M50,2 L50,22 M50,76 L50,97" stroke="#4a4a4a" stroke-width="2"/>
<path d="M38,27 L42,26 L50,34 L58,26 L62,27 L52.5,40 L52,48 L48,48 L47.5,40 Z M48,57 L52,57 L56,66 L54,68 L50,62 L46,68 L44,66 Z" fill="#222"/>
</g>
<ellipse cx="27.00" cy="28.90" rx="8.60" ry="4.90" fill="url(#hot)" transform="rotate(15.0 27.00 28.90)"/>
<ellipse cx="18.80" cy="22.10" rx="1.50" ry="0.90" fill="url(#blu)" transform="rotate(-30.0 18.80 22.10)"/>
<ellipse cx="32.50" cy="26.40" rx="0.70" ry="0.70" fill="url(#blu)"/>
<path d="M54.3,27 C54.3,25.4 56,25.2 58,25.2 C60.5,25.2 62,25.8 62,28.9 C62,32 60.5,32.6 58,32.6 C56,32.6 54.3,32.4 54.3,31 Z" fill="url(#warm)"/>
<path d="M78.6,26.5 C78.6,24.8 80.5,24.6 82.8,24.6 C85.5,24.6 87.1,25.4 87.1,28.9 C87.1,32.4 85.5,33.2 82.8,33.2 C80.5,33.2 78.6,33 78.6,31.3 Z" fill="url(#hot)"/>
<path d="M97.2,20.5 C99.5,19.6 102.5,20.5 104,22.5 C105.2,25 105.2,29 104,31.5 C102.5,33.4 99.5,33.6 97.6,32.6 C96,30 95.9,23 97.2,20.5 Z" fill="url(#hot)"/>
<path d="M127.8,19.8 C125.5,18.9 122,19.6 120.6,21.8 C119.5,24 119.5,27.5 120.6,29.6 C122,31.6 125.5,31.9 127.8,30.8 C129.3,28 129.3,22.5 127.8,19.8 Z" fill="url(#hotr)"/>
<ellipse cx="123.60" cy="16.50" rx="1.20" ry="0.90" fill="url(#blu)"/>
<ellipse cx="103.00" cy="38.90" rx="0.60" ry="0.60" fill="url(#blu)"/>
</g>
<rect x="168.00" y="339.50" width="139.50" height="50.00" fill="#000"/>
<text x="234.90" y="334.80" font-size="10" fill="#111" text-anchor="middle">Default mode network(n=2)</text>
<g transform="translate(168.00,339.50)">
<g transform="translate(4.50,11.80) scale(0.4150,0.3390)">
<g filter="url(#tex)">
<path d="M2,60 C0,50 1,38 3,32 C6,22 12,12 24,5 C32,1 40,0 50,0 C60,0 70,1 80,8 C90,15 97,25 99,38 C100,48 99,58 95,63 C91,68 86,69 82,68 C76,66 72,63 66,60 C60,57 54,55 48,54 C42,53 37,50 33,48 C28,50 22,52 17,55 C12,58 7,61 2,60 Z" fill="url(#gm)"/>
<path d="M14,70 C14,60 22,57 30,58 C38,59 42,66 41,74 C40,82 35,87 27,87 C19,87 14,80 14,70 Z" fill="url(#gm2)"/>
<path d="M37,52 C43,50 51,52 53,58 C55,65 54,73 50,78 L47,84 L45,100 L37,100 L37,84 C35,76 34,62 37,52 Z" fill="url(#gm2)"/>
</g>
<path d="M43,46 C50,39 64,38 75,45 C66,49 54,51 43,49 Z" fill="#2a2a2a"/>
<path d="M36,44 C44,30 64,28 80,40 C83,43 82,47 78,46 C66,36 50,36 40,47 Z" fill="#ececec"/>
</g>
<g transform="translate(60.40,18.70) scale(0.2130,0.1570)">
<g filter="url(#tex)">
<path d="M50,2 C40,0 28,4 20,10 C10,18 4,30 2,44 C0,56 0,68 3,78 C6,88 16,94 26,94 C30,94 33,90 35,86 L40,82 L42,99 L58,99 L60,82 L65,86 C67,90 70,94 74,94 C84,94 94,88 97,78 C100,68 100,56 98,44 C96,30 90,18 80,10 C72,4 60,0 50,2 Z" fill="url(#gm)"/>
</g>
<ellipse cx="50" cy="48" rx="30" ry="26" fill="#fff" opacity="0.4" filter="url(#wm)"/>
<path d="M50,3 L50,30" stroke="#555" stroke-width="2"/>
</g>
<g transform="translate(97.10,3.50) scale(0.3200,0.4090)">
<g filter="url(#tex)">
<path d="M50,1 C62,0 76,8 86,22 C95,36 99,54 96,72 C93,88 80,99 62,99 L50,97 L38,99 C20,99 7,88 4,72 C1,54 5,36 14,22 C24,8 38,0 50,1 Z" fill="url(#gm)"/>
</g>
<ellipse cx="50" cy="52" rx="33" ry="35" fill="#fff" opacity="0.5" filter="url(#wm)"/>
<path d="M50,2 L50,28 M50,80 L50,97" stroke="#4a4a4a" stroke-width="2"/>
<path d="M36,30 L43,29 L50,38 L57,29 L64,30 L54,42 L55,48 L45,48 L46,42 Z" fill="#1c1c1c"/>
</g>
<ellipse cx="14.90" cy="24.40" rx="4.10" ry="5.70" fill="url(#warm)"/>
<ellipse cx="24.60" cy="24.90" rx="4.40" ry="2.50" fill="url(#blu)"/>
<path d="M36,17 C40,16 44,19 45.6,23 C46.5,27 45,31.5 42,33 C39,33.5 37.5,31 37,28 C36.5,25 35,22 34.6,19.5 C34.5,18 35,17.2 36,17 Z" fill="url(#hotr)"/>
<ellipse cx="35.30" cy="30.00" rx="1.50" ry="1.00" fill="url(#blu)"/>
<ellipse cx="27.70" cy="13.60" rx="1.20" ry="1.20" fill="url(#blu)"/>
<ellipse cx="10.80" cy="20.50" rx="0.80" ry="0.80" fill="url(#blu)"/>
<path d="M64.5,26 C64.5,22.5 67.5,21.2 71.7,21.2 C75.9,21.2 78.9,22.5 78.9,26 C78.9,29.5 76,31.8 71.7,31.8 C67.4,31.8 64.5,29.5 64.5,26 Z" fill="url(#hot)"/>
<ellipse cx="64.80" cy="30.00" rx="0.80" ry="0.80" fill="url(#blu)"/>
<ellipse cx="76.70" cy="30.00" rx="1.00" ry="1.00" fill="url(#blu)"/>
<path d="M105.5,8 C106,4.5 109,3.9 113,3.9 C117,3.9 120.5,4.5 120.7,8 C120.8,11 117,13.5 113,15.7 C109,13.5 105.3,11 105.5,8 Z" fill="url(#hottop)"/>
<path d="M111.6,22.2 L113.8,22.2 L113.8,26.4 C118,26.4 120.2,28.5 120.2,32 C120.2,34.5 119.5,36 118,36 C116.6,36 116.5,34.5 116.5,32.5 C116.5,30.5 115,29.8 112.7,29.8 C110.4,29.8 109,30.5 109,32.5 C109,34.5 108.8,36 107.4,36 C105.9,36 105.2,34.5 105.2,32 C105.2,28.5 107.4,26.4 111.6,26.4 Z" fill="url(#blu)"/>
<ellipse cx="112.60" cy="33.90" rx="2.60" ry="3.00" fill="url(#warm)"/>
<ellipse cx="124.50" cy="25.20" rx="3.40" ry="2.40" fill="url(#dred)"/>
<ellipse cx="124.50" cy="34.20" rx="2.10" ry="2.10" fill="url(#dred)"/>
<ellipse cx="101.50" cy="35.50" rx="1.60" ry="1.70" fill="url(#dred)"/>
</g>
<rect x="12.00" y="410.00" width="139.00" height="50.00" fill="#000"/>
<text x="80.75" y="404.80" font-size="10" fill="#111" text-anchor="middle">Dorsal attention network(n=1)</text>
<g transform="translate(12.00,410.00)">
<g transform="translate(11.90,13.80) scale(0.3640,0.3010)">
<g filter="url(#tex)">
<path d="M4,50 C2,34 10,16 26,8 C42,0 64,0 80,8 C93,15 100,29 98,44 C97,53 93,59 86,61 C85,72 80,84 70,90 C60,95 46,95 38,90 C30,85 26,80 20,76 C10,72 5,62 4,50 Z" fill="url(#gm)"/>
<path d="M2,82 C2,74 12,72 22,76 C30,80 32,88 28,92 C22,98 10,98 5,93 C2,90 1,86 2,82 Z" fill="url(#gm2)"/>
</g>
</g>
<g transform="translate(60.20,10.00) scale(0.3330,0.3580)">
<g filter="url(#tex)">
<path d="M50,2 C40,0 28,4 20,10 C10,18 4,30 2,44 C0,56 0,68 3,78 C6,88 16,94 26,94 C30,94 33,90 35,86 L40,82 L42,99 L58,99 L60,82 L65,86 C67,90 70,94 74,94 C84,94 94,88 97,78 C100,68 100,56 98,44 C96,30 90,18 80,10 C72,4 60,0 50,2 Z" fill="url(#gm)"/>
</g>
<ellipse cx="50" cy="48" rx="30" ry="26" fill="#fff" opacity="0.4" filter="url(#wm)"/>
<path d="M50,3 L50,30" stroke="#555" stroke-width="2"/>
<path d="M36,42 C40,38 46,40 49,46 L49,52 L51,52 L51,46 C54,40 60,38 64,42 C60,48 54,50 52,56 L48,56 C46,50 40,48 36,42 Z" fill="#222"/>
</g>
<g transform="translate(104.90,8.90) scale(0.2660,0.3110)">
<g filter="url(#tex)">
<path d="M50,1 C62,0 76,8 86,22 C95,36 99,54 96,72 C93,88 80,99 62,99 L50,97 L38,99 C20,99 7,88 4,72 C1,54 5,36 14,22 C24,8 38,0 50,1 Z" fill="url(#gm)"/>
</g>
<ellipse cx="50" cy="52" rx="33" ry="35" fill="#fff" opacity="0.5" filter="url(#wm)"/>
<path d="M50,2 L50,40 M50,60 L50,97" stroke="#4a4a4a" stroke-width="2"/>
</g>
<path d="M21.5,17.5 C22.5,15.2 27,14.8 31.5,15 C33,15.2 33,16.5 32.4,18.5 C31.5,21 30,22.6 26,22.6 C22.5,22.6 21,21 21.5,17.5 Z" fill="url(#hot)"/>
<ellipse cx="17.50" cy="23.80" rx="1.20" ry="1.80" fill="url(#blu)"/>
<ellipse cx="38.20" cy="23.20" rx="1.00" ry="0.70" fill="url(#blu)"/>
<ellipse cx="26.00" cy="27.00" rx="0.70" ry="0.50" fill="url(#dred)"/>
<ellipse cx="67.10" cy="18.50" rx="4.40" ry="4.70" fill="url(#warm)"/>
<ellipse cx="85.00" cy="18.50" rx="4.10" ry="4.70" fill="url(#hot)"/>
<ellipse cx="75.90" cy="14.40" rx="1.50" ry="1.50" fill="url(#blu)"/>
<ellipse cx="90.40" cy="24.40" rx="0.70" ry="0.70" fill="url(#blu)"/>
<ellipse cx="79.00" cy="33.90" rx="1.20" ry="0.80" fill="url(#blu)"/>
<path d="M109,23 C112,22.4 115,23.5 114.5,25 C113,27 112.6,30 113.5,32.5 C114.5,34.5 115.2,35.5 113,35.8 C110,36 107.5,34 107.2,30 C107,26 107.5,23.5 109,23 Z" fill="url(#warm)"/>
<path d="M127,21.6 C129,22.5 129.8,26 129.6,30 C129.4,34 127,36.2 123,36.2 C120.5,36.2 120,35.5 121.3,34 C123,32 123.3,29 122.8,26.5 C122.3,24 122.5,21.5 127,21.6 Z" fill="url(#hotr)"/>
<ellipse cx="123.50" cy="15.80" rx="2.50" ry="1.00" fill="url(#blu)" transform="rotate(35.0 123.50 15.80)"/>
</g>
<rect x="168.00" y="409.00" width="139.50" height="50.00" fill="#000"/>
<text x="234.00" y="404.80" font-size="10" fill="#111" text-anchor="middle">Frontoparietal network(n=1)</text>
<g transform="translate(168.00,409.00)">
<g transform="translate(11.20,15.40) scale(0.3090,0.2570)">
<g filter="url(#tex)">
<path d="M4,50 C2,34 10,16 26,8 C42,0 64,0 80,8 C93,15 100,29 98,44 C97,53 93,59 86,61 C85,72 80,84 70,90 C60,95 46,95 38,90 C30,85 26,80 20,76 C10,72 5,62 4,50 Z" fill="url(#gm)"/>
<path d="M2,82 C2,74 12,72 22,76 C30,80 32,88 28,92 C22,98 10,98 5,93 C2,90 1,86 2,82 Z" fill="url(#gm2)"/>
</g>
</g>
<g transform="translate(57.30,10.80) scale(0.2980,0.2970)">
<g filter="url(#tex)">
<path d="M50,2 C40,0 28,4 20,10 C10,18 4,30 2,44 C0,56 0,68 3,78 C6,88 16,94 26,94 C30,94 33,90 35,86 L40,82 L42,99 L58,99 L60,82 L65,86 C67,90 70,94 74,94 C84,94 94,88 97,78 C100,68 100,56 98,44 C96,30 90,18 80,10 C72,4 60,0 50,2 Z" fill="url(#gm)"/>
</g>
<ellipse cx="50" cy="48" rx="30" ry="26" fill="#fff" opacity="0.4" filter="url(#wm)"/>
<path d="M50,3 L50,30" stroke="#555" stroke-width="2"/>
<path d="M36,42 C40,38 46,40 49,46 L49,52 L51,52 L51,46 C54,40 60,38 64,42 C60,48 54,50 52,56 L48,56 C46,50 40,48 36,42 Z" fill="#222"/>
</g>
<g transform="translate(97.70,4.30) scale(0.3270,0.3880)">
<g filter="url(#tex)">
<path d="M50,1 C62,0 76,8 86,22 C95,36 99,54 96,72 C93,88 80,99 62,99 L50,97 L38,99 C20,99 7,88 4,72 C1,54 5,36 14,22 C24,8 38,0 50,1 Z" fill="url(#gm)"/>
</g>
<ellipse cx="50" cy="52" rx="33" ry="35" fill="#fff" opacity="0.5" filter="url(#wm)"/>
<path d="M50,2 L50,22 M50,76 L50,97" stroke="#4a4a4a" stroke-width="2"/>
<path d="M38,27 L42,26 L50,34 L58,26 L62,27 L52.5,40 L52,48 L48,48 L47.5,40 Z M48,57 L52,57 L56,66 L54,68 L50,62 L46,68 L44,66 Z" fill="#222"/>
</g>
<ellipse cx="34.20" cy="24.70" rx="4.60" ry="7.20" fill="url(#hot)" transform="rotate(-35.0 34.20 24.70)"/>
<ellipse cx="20.50" cy="19.50" rx="2.30" ry="1.80" fill="url(#dred)"/>
<ellipse cx="17.60" cy="31.50" rx="3.50" ry="3.20" fill="url(#dred)"/>
<ellipse cx="15.80" cy="23.00" rx="1.00" ry="1.00" fill="url(#blu)"/>
<ellipse cx="62.30" cy="22.50" rx="3.80" ry="5.30" fill="url(#hot)"/>
<ellipse cx="83.00" cy="22.20" rx="3.50" ry="3.30" fill="url(#redb)"/>
<path d="M80.1,26.5 L85.9,26.8 C86,29 84.5,31.8 83,31.8 C81.5,31.8 80,29 80.1,26.5 Z" fill="url(#blu)"/>
<ellipse cx="75.40" cy="15.40" rx="1.30" ry="1.30" fill="url(#blu)"/>
<ellipse cx="71.90" cy="20.70" rx="0.80" ry="0.80" fill="url(#blu)"/>
<ellipse cx="70.70" cy="17.20" rx="0.80" ry="0.80" fill="url(#dred)"/>
<ellipse cx="103.50" cy="17.20" rx="3.30" ry="5.00" fill="url(#hot)"/>
<ellipse cx="124.60" cy="16.50" rx="3.30" ry="4.30" fill="url(#redb)"/>
<ellipse cx="126.00" cy="31.10" rx="2.70" ry="3.70" fill="url(#blu)"/>
<ellipse cx="118.00" cy="29.90" rx="2.00" ry="3.30" fill="url(#blu)"/>
<ellipse cx="119.20" cy="8.20" rx="2.90" ry="2.20" fill="url(#blu)"/>
<ellipse cx="106.00" cy="36.40" rx="2.20" ry="2.20" fill="url(#dred)"/>
<ellipse cx="121.70" cy="36.50" rx="1.20" ry="1.20" fill="url(#dred)"/>
<ellipse cx="110.10" cy="39.40" rx="1.50" ry="0.80" fill="url(#blu)"/>
<ellipse cx="101.40" cy="33.60" rx="0.80" ry="0.80" fill="url(#blu)"/>
<ellipse cx="113.40" cy="20.40" rx="1.20" ry="0.80" fill="url(#dred)"/>
<ellipse cx="113.40" cy="28.70" rx="0.80" ry="0.80" fill="url(#dred)"/>
</g>
<rect x="12.00" y="477.00" width="139.00" height="50.50" fill="#000"/>
<text x="81.20" y="473.60" font-size="10" fill="#111" text-anchor="middle">Sensorimotor network(n=2)</text>
<g transform="translate(12.00,477.00)">
<g transform="translate(9.90,11.90) scale(0.4050,0.3460)">
<g filter="url(#tex)">
<path d="M2,60 C0,50 1,38 3,32 C6,22 12,12 24,5 C32,1 40,0 50,0 C60,0 70,1 80,8 C90,15 97,25 99,38 C100,48 99,58 95,63 C91,68 86,69 82,68 C76,66 72,63 66,60 C60,57 54,55 48,54 C42,53 37,50 33,48 C28,50 22,52 17,55 C12,58 7,61 2,60 Z" fill="url(#gm)"/>
<path d="M14,70 C14,60 22,57 30,58 C38,59 42,66 41,74 C40,82 35,87 27,87 C19,87 14,80 14,70 Z" fill="url(#gm2)"/>
<path d="M37,52 C43,50 51,52 53,58 C55,65 54,73 50,78 L47,84 L45,100 L37,100 L37,84 C35,76 34,62 37,52 Z" fill="url(#gm2)"/>
</g>
<path d="M43,46 C50,39 64,38 75,45 C66,49 54,51 43,49 Z" fill="#2a2a2a"/>
<path d="M36,44 C44,30 64,28 80,40 C83,43 82,47 78,46 C66,36 50,36 40,47 Z" fill="#ececec"/>
</g>
<g transform="translate(59.40,9.30) scale(0.3400,0.3720)">
<g filter="url(#tex)">
<path d="M50,2 C40,0 28,4 20,10 C10,18 4,30 2,44 C0,56 0,68 3,78 C6,88 16,94 26,94 C30,94 33,90 35,86 L40,82 L42,99 L58,99 L60,82 L65,86 C67,90 70,94 74,94 C84,94 94,88 97,78 C100,68 100,56 98,44 C96,30 90,18 80,10 C72,4 60,0 50,2 Z" fill="url(#gm)"/>
</g>
<ellipse cx="50" cy="48" rx="30" ry="26" fill="#fff" opacity="0.4" filter="url(#wm)"/>
<path d="M50,3 L50,30" stroke="#555" stroke-width="2"/>
<path d="M36,42 C40,38 46,40 49,46 L49,52 L51,52 L51,46 C54,40 60,38 64,42 C60,48 54,50 52,56 L48,56 C46,50 40,48 36,42 Z" fill="#222"/>
</g>
<g transform="translate(106.90,12.80) scale(0.2200,0.2470)">
<g filter="url(#tex)">
<path d="M50,1 C62,0 76,8 86,22 C95,36 99,54 96,72 C93,88 80,99 62,99 L50,97 L38,99 C20,99 7,88 4,72 C1,54 5,36 14,22 C24,8 38,0 50,1 Z" fill="url(#gm)"/>
</g>
<ellipse cx="50" cy="52" rx="33" ry="35" fill="#fff" opacity="0.5" filter="url(#wm)"/>
<path d="M50,2 L50,40 M50,60 L50,97" stroke="#4a4a4a" stroke-width="2"/>
</g>
<path d="M19.8,19 C20.5,15 24,12.5 28,12.5 C32,12.5 35,14 35,17 C35,20 31,20.8 27,20.8 C23,20.8 19.6,21 19.8,19 Z" fill="url(#hot)"/>
<path d="M68.5,16 C69,13.2 73,12.5 77.4,12.5 C82,12.5 86.3,13.2 86.4,16 C86.4,19.5 82,21.5 77.4,21.5 C73,21.5 68.3,19.5 68.5,16 Z" fill="url(#hot)"/>
<ellipse cx="66.80" cy="19.50" rx="2.90" ry="2.00" fill="url(#blu)"/>
<ellipse cx="84.40" cy="18.90" rx="2.00" ry="1.90" fill="url(#blu)"/>
<ellipse cx="72.20" cy="34.30" rx="0.70" ry="0.70" fill="url(#dred)"/>
<ellipse cx="78.70" cy="34.30" rx="0.70" ry="0.70" fill="url(#dred)"/>
<ellipse cx="117.70" cy="27.60" rx="6.00" ry="5.40" fill="url(#hot)"/>
</g>
<rect x="168.00" y="477.00" width="139.50" height="50.50" fill="#000"/>
<text x="234.87" y="473.60" font-size="10" fill="#111" text-anchor="middle">Visual network(n=4)</text>
<g transform="translate(168.00,477.00)">
<g transform="translate(6.50,10.10) scale(0.4210,0.3520)">
<g filter="url(#tex)">
<path d="M2,60 C0,50 1,38 3,32 C6,22 12,12 24,5 C32,1 40,0 50,0 C60,0 70,1 80,8 C90,15 97,25 99,38 C100,48 99,58 95,63 C91,68 86,69 82,68 C76,66 72,63 66,60 C60,57 54,55 48,54 C42,53 37,50 33,48 C28,50 22,52 17,55 C12,58 7,61 2,60 Z" fill="url(#gm)"/>
<path d="M14,70 C14,60 22,57 30,58 C38,59 42,66 41,74 C40,82 35,87 27,87 C19,87 14,80 14,70 Z" fill="url(#gm2)"/>
<path d="M37,52 C43,50 51,52 53,58 C55,65 54,73 50,78 L47,84 L45,100 L37,100 L37,84 C35,76 34,62 37,52 Z" fill="url(#gm2)"/>
</g>
<path d="M43,46 C50,39 64,38 75,45 C66,49 54,51 43,49 Z" fill="#2a2a2a"/>
<path d="M36,44 C44,30 64,28 80,40 C83,43 82,47 78,46 C66,36 50,36 40,47 Z" fill="#ececec"/>
</g>
<g transform="translate(61.10,15.20) scale(0.2510,0.2820)">
<g filter="url(#tex)">
<path d="M50,3 C38,0 18,4 8,20 C2,32 2,50 6,62 C10,70 20,72 30,70 L50,68 L70,70 C80,72 90,70 94,62 C98,50 98,32 92,20 C82,4 62,0 50,3 Z" fill="url(#gm)"/>
<path d="M10,76 C14,67 40,67 50,71 C60,67 86,67 90,76 C94,88 76,99 56,97 L50,93 L44,97 C24,99 6,88 10,76 Z" fill="url(#gm2)"/>
</g>
<ellipse cx="50" cy="38" rx="30" ry="20" fill="#fff" opacity="0.4" filter="url(#wm)"/>
<path d="M50,3 L50,30" stroke="#555" stroke-width="2"/>
</g>
<g transform="translate(98.20,3.60) scale(0.3370,0.4270)">
<g filter="url(#tex)">
<path d="M50,1 C62,0 76,8 86,22 C95,36 99,54 96,72 C93,88 80,99 62,99 L50,97 L38,99 C20,99 7,88 4,72 C1,54 5,36 14,22 C24,8 38,0 50,1 Z" fill="url(#gm)"/>
</g>
<ellipse cx="50" cy="52" rx="33" ry="35" fill="#fff" opacity="0.5" filter="url(#wm)"/>
<path d="M50,2 L50,22 M50,76 L50,97" stroke="#4a4a4a" stroke-width="2"/>
<path d="M38,27 L42,26 L50,34 L58,26 L62,27 L52.5,40 L52,48 L48,48 L47.5,40 Z M48,57 L52,57 L56,66 L54,68 L50,62 L46,68 L44,66 Z" fill="#222"/>
</g>
<path d="M12.6,21 L20.6,30.2 L12.6,34.3 C11.5,30 11.5,25 12.6,21 Z" fill="url(#hotbl)"/>
<ellipse cx="10.90" cy="27.10" rx="0.80" ry="2.00" fill="url(#blu)"/>
<ellipse cx="20.30" cy="25.80" rx="1.30" ry="1.50" fill="url(#blu)"/>
<ellipse cx="73.40" cy="27.70" rx="6.60" ry="5.70" fill="url(#hot)"/>
<ellipse cx="81.80" cy="22.70" rx="1.00" ry="2.00" fill="url(#blu)"/>
<ellipse cx="79.30" cy="34.60" rx="1.40" ry="0.90" fill="url(#blu)"/>
<ellipse cx="63.00" cy="29.00" rx="0.50" ry="0.50" fill="url(#blu)"/>
<path d="M106,40.5 C108,43.8 120,43.8 124.6,40.5 L124.3,42 C120,44.5 109,44.5 106.2,42 Z" fill="url(#blu)"/>
<path d="M106.4,31 C108,29 111,30 115.3,30.5 C119.5,30 122.6,29 124.3,31 C125,35 121,40.8 115.3,40.8 C109.6,40.8 105.6,35 106.4,31 Z" fill="url(#hotlow)"/>
<ellipse cx="114.00" cy="31.20" rx="1.30" ry="1.30" fill="url(#blu)"/>
<ellipse cx="105.00" cy="36.70" rx="1.80" ry="0.80" fill="url(#dred)"/>
</g>
<rect x="376.00" y="11.00" width="15.18" height="15.11" fill="#03037a"/>
<rect x="390.88" y="11.00" width="15.18" height="15.11" fill="#53f9b2"/>
<rect x="405.75" y="11.00" width="15.18" height="15.11" fill="#0606ee"/>
<rect x="420.62" y="11.00" width="15.18" height="15.11" fill="#f79d0a"/>
<rect x="435.50" y="11.00" width="15.18" height="15.11" fill="#40f9c5"/>
<rect x="450.38" y="11.00" width="15.18" height="15.11" fill="#0732f4"/>
<rect x="465.25" y="11.00" width="15.18" height="15.11" fill="#95f970"/>
<rect x="480.12" y="11.00" width="15.18" height="15.11" fill="#5df9a8"/>
<rect x="495.00" y="11.00" width="15.18" height="15.11" fill="#0ab0f7"/>
<rect x="509.88" y="11.00" width="15.18" height="15.11" fill="#f8c40b"/>
<rect x="524.75" y="11.00" width="15.18" height="15.11" fill="#0be1f8"/>
<rect x="539.62" y="11.00" width="15.18" height="15.11" fill="#0989f6"/>
<rect x="554.50" y="11.00" width="15.18" height="15.11" fill="#95f970"/>
<rect x="569.38" y="11.00" width="15.18" height="15.11" fill="#0cf4f9"/>
<rect x="584.25" y="11.00" width="15.18" height="15.11" fill="#0ceaf9"/>
<rect x="599.12" y="11.00" width="15.18" height="15.11" fill="#66f99f"/>
<rect x="376.00" y="25.81" width="15.18" height="15.11" fill="#53f9b2"/>
<rect x="390.88" y="25.81" width="15.18" height="15.11" fill="#03037a"/>
<rect x="405.75" y="25.81" width="15.18" height="15.11" fill="#f43207"/>
<rect x="420.62" y="25.81" width="15.18" height="15.11" fill="#7a0303"/>
<rect x="435.50" y="25.81" width="15.18" height="15.11" fill="#f4f911"/>
<rect x="450.38" y="25.81" width="15.18" height="15.11" fill="#9ff966"/>
<rect x="465.25" y="25.81" width="15.18" height="15.11" fill="#e1f924"/>
<rect x="480.12" y="25.81" width="15.18" height="15.11" fill="#11f9f4"/>
<rect x="495.00" y="25.81" width="15.18" height="15.11" fill="#82f982"/>
<rect x="509.88" y="25.81" width="15.18" height="15.11" fill="#f79d0a"/>
<rect x="524.75" y="25.81" width="15.18" height="15.11" fill="#f54507"/>
<rect x="539.62" y="25.81" width="15.18" height="15.11" fill="#f4f911"/>
<rect x="554.50" y="25.81" width="15.18" height="15.11" fill="#0980f6"/>
<rect x="569.38" y="25.81" width="15.18" height="15.11" fill="#c5f940"/>
<rect x="584.25" y="25.81" width="15.18" height="15.11" fill="#f54f08"/>
<rect x="599.12" y="25.81" width="15.18" height="15.11" fill="#f4f911"/>
<rect x="376.00" y="40.62" width="15.18" height="15.11" fill="#0606ee"/>
<rect x="390.88" y="40.62" width="15.18" height="15.11" fill="#f43207"/>
<rect x="405.75" y="40.62" width="15.18" height="15.11" fill="#03037a"/>
<rect x="420.62" y="40.62" width="15.18" height="15.11" fill="#0be1f8"/>
<rect x="435.50" y="40.62" width="15.18" height="15.11" fill="#f43b07"/>
<rect x="450.38" y="40.62" width="15.18" height="15.11" fill="#0be1f8"/>
<rect x="465.25" y="40.62" width="15.18" height="15.11" fill="#53f9b2"/>
<rect x="480.12" y="40.62" width="15.18" height="15.11" fill="#f4f911"/>
<rect x="495.00" y="40.62" width="15.18" height="15.11" fill="#4af9bb"/>
<rect x="509.88" y="40.62" width="15.18" height="15.11" fill="#f8c40b"/>
<rect x="524.75" y="40.62" width="15.18" height="15.11" fill="#c5f940"/>
<rect x="539.62" y="40.62" width="15.18" height="15.11" fill="#cef937"/>
<rect x="554.50" y="40.62" width="15.18" height="15.11" fill="#0993f7"/>
<rect x="569.38" y="40.62" width="15.18" height="15.11" fill="#086cf6"/>
<rect x="584.25" y="40.62" width="15.18" height="15.11" fill="#53f9b2"/>
<rect x="599.12" y="40.62" width="15.18" height="15.11" fill="#bbf94a"/>
<rect x="376.00" y="55.44" width="15.18" height="15.11" fill="#f79d0a"/>
<rect x="390.88" y="55.44" width="15.18" height="15.11" fill="#7a0303"/>
<rect x="405.75" y="55.44" width="15.18" height="15.11" fill="#0be1f8"/>
<rect x="420.62" y="55.44" width="15.18" height="15.11" fill="#03037a"/>
<rect x="435.50" y="55.44" width="15.18" height="15.11" fill="#a00404"/>
<rect x="450.38" y="55.44" width="15.18" height="15.11" fill="#f9f40c"/>
<rect x="465.25" y="55.44" width="15.18" height="15.11" fill="#f8cd0b"/>
<rect x="480.12" y="55.44" width="15.18" height="15.11" fill="#e1f924"/>
<rect x="495.00" y="55.44" width="15.18" height="15.11" fill="#c5f940"/>
<rect x="509.88" y="55.44" width="15.18" height="15.11" fill="#f54f08"/>
<rect x="524.75" y="55.44" width="15.18" height="15.11" fill="#e90606"/>
<rect x="539.62" y="55.44" width="15.18" height="15.11" fill="#24f9e1"/>
<rect x="554.50" y="55.44" width="15.18" height="15.11" fill="#0cf4f9"/>
<rect x="569.38" y="55.44" width="15.18" height="15.11" fill="#c5f940"/>
<rect x="584.25" y="55.44" width="15.18" height="15.11" fill="#f8cd0b"/>
<rect x="599.12" y="55.44" width="15.18" height="15.11" fill="#e1f924"/>
<rect x="376.00" y="70.25" width="15.18" height="15.11" fill="#40f9c5"/>
<rect x="390.88" y="70.25" width="15.18" height="15.11" fill="#f4f911"/>
<rect x="405.75" y="70.25" width="15.18" height="15.11" fill="#f43b07"/>
<rect x="420.62" y="70.25" width="15.18" height="15.11" fill="#a00404"/>
<rect x="435.50" y="70.25" width="15.18" height="15.11" fill="#03037a"/>
<rect x="450.38" y="70.25" width="15.18" height="15.11" fill="#0ab0f7"/>
<rect x="465.25" y="70.25" width="15.18" height="15.11" fill="#f8d70b"/>
<rect x="480.12" y="70.25" width="15.18" height="15.11" fill="#f8e10b"/>
<rect x="495.00" y="70.25" width="15.18" height="15.11" fill="#82f982"/>
<rect x="509.88" y="70.25" width="15.18" height="15.11" fill="#9c0404"/>
<rect x="524.75" y="70.25" width="15.18" height="15.11" fill="#e90606"/>
<rect x="539.62" y="70.25" width="15.18" height="15.11" fill="#c5f940"/>
<rect x="554.50" y="70.25" width="15.18" height="15.11" fill="#071ef4"/>
<rect x="569.38" y="70.25" width="15.18" height="15.11" fill="#0ab0f7"/>
<rect x="584.25" y="70.25" width="15.18" height="15.11" fill="#f8cd0b"/>
<rect x="599.12" y="70.25" width="15.18" height="15.11" fill="#0bd7f8"/>
<rect x="376.00" y="85.06" width="15.18" height="15.11" fill="#0732f4"/>
<rect x="390.88" y="85.06" width="15.18" height="15.11" fill="#9ff966"/>
<rect x="405.75" y="85.06" width="15.18" height="15.11" fill="#0be1f8"/>
<rect x="420.62" y="85.06" width="15.18" height="15.11" fill="#f9f40c"/>
<rect x="435.50" y="85.06" width="15.18" height="15.11" fill="#0ab0f7"/>
<rect x="450.38" y="85.06" width="15.18" height="15.11" fill="#03037a"/>
<rect x="465.25" y="85.06" width="15.18" height="15.11" fill="#11f9f4"/>
<rect x="480.12" y="85.06" width="15.18" height="15.11" fill="#53f9b2"/>
<rect x="495.00" y="85.06" width="15.18" height="15.11" fill="#0ceaf9"/>
<rect x="509.88" y="85.06" width="15.18" height="15.11" fill="#cef937"/>
<rect x="524.75" y="85.06" width="15.18" height="15.11" fill="#c5f940"/>
<rect x="539.62" y="85.06" width="15.18" height="15.11" fill="#0abaf8"/>
<rect x="554.50" y="85.06" width="15.18" height="15.11" fill="#0976f6"/>
<rect x="569.38" y="85.06" width="15.18" height="15.11" fill="#084ff5"/>
<rect x="584.25" y="85.06" width="15.18" height="15.11" fill="#0993f7"/>
<rect x="599.12" y="85.06" width="15.18" height="15.11" fill="#11f9f4"/>
<rect x="376.00" y="99.88" width="15.18" height="15.11" fill="#95f970"/>
<rect x="390.88" y="99.88" width="15.18" height="15.11" fill="#e1f924"/>
<rect x="405.75" y="99.88" width="15.18" height="15.11" fill="#53f9b2"/>
<rect x="420.62" y="99.88" width="15.18" height="15.11" fill="#f8cd0b"/>
<rect x="435.50" y="99.88" width="15.18" height="15.11" fill="#f8d70b"/>
<rect x="450.38" y="99.88" width="15.18" height="15.11" fill="#11f9f4"/>
<rect x="465.25" y="99.88" width="15.18" height="15.11" fill="#03037a"/>
<rect x="480.12" y="99.88" width="15.18" height="15.11" fill="#f54f08"/>
<rect x="495.00" y="99.88" width="15.18" height="15.11" fill="#f55908"/>
<rect x="509.88" y="99.88" width="15.18" height="15.11" fill="#060bf3"/>
<rect x="524.75" y="99.88" width="15.18" height="15.11" fill="#f79309"/>
<rect x="539.62" y="99.88" width="15.18" height="15.11" fill="#0ceaf9"/>
<rect x="554.50" y="99.88" width="15.18" height="15.11" fill="#0606ee"/>
<rect x="569.38" y="99.88" width="15.18" height="15.11" fill="#0980f6"/>
<rect x="584.25" y="99.88" width="15.18" height="15.11" fill="#0a9df7"/>
<rect x="599.12" y="99.88" width="15.18" height="15.11" fill="#03038d"/>
<rect x="376.00" y="114.69" width="15.18" height="15.11" fill="#5df9a8"/>
<rect x="390.88" y="114.69" width="15.18" height="15.11" fill="#11f9f4"/>
<rect x="405.75" y="114.69" width="15.18" height="15.11" fill="#f4f911"/>
<rect x="420.62" y="114.69" width="15.18" height="15.11" fill="#e1f924"/>
<rect x="435.50" y="114.69" width="15.18" height="15.11" fill="#f8e10b"/>
<rect x="450.38" y="114.69" width="15.18" height="15.11" fill="#53f9b2"/>
<rect x="465.25" y="114.69" width="15.18" height="15.11" fill="#f54f08"/>
<rect x="480.12" y="114.69" width="15.18" height="15.11" fill="#03037a"/>
<rect x="495.00" y="114.69" width="15.18" height="15.11" fill="#e1f924"/>
<rect x="509.88" y="114.69" width="15.18" height="15.11" fill="#0976f6"/>
<rect x="524.75" y="114.69" width="15.18" height="15.11" fill="#f8c40b"/>
<rect x="539.62" y="114.69" width="15.18" height="15.11" fill="#0ab0f7"/>
<rect x="554.50" y="114.69" width="15.18" height="15.11" fill="#0404a0"/>
<rect x="569.38" y="114.69" width="15.18" height="15.11" fill="#4af9bb"/>
<rect x="584.25" y="114.69" width="15.18" height="15.11" fill="#0993f7"/>
<rect x="599.12" y="114.69" width="15.18" height="15.11" fill="#40f9c5"/>
<rect x="376.00" y="129.50" width="15.18" height="15.11" fill="#0ab0f7"/>
<rect x="390.88" y="129.50" width="15.18" height="15.11" fill="#82f982"/>
<rect x="405.75" y="129.50" width="15.18" height="15.11" fill="#4af9bb"/>
<rect x="420.62" y="129.50" width="15.18" height="15.11" fill="#c5f940"/>
<rect x="435.50" y="129.50" width="15.18" height="15.11" fill="#82f982"/>
<rect x="450.38" y="129.50" width="15.18" height="15.11" fill="#0ceaf9"/>
<rect x="465.25" y="129.50" width="15.18" height="15.11" fill="#f55908"/>
<rect x="480.12" y="129.50" width="15.18" height="15.11" fill="#e1f924"/>
<rect x="495.00" y="129.50" width="15.18" height="15.11" fill="#03037a"/>
<rect x="509.88" y="129.50" width="15.18" height="15.11" fill="#0ceaf9"/>
<rect x="524.75" y="129.50" width="15.18" height="15.11" fill="#f9ea0c"/>
<rect x="539.62" y="129.50" width="15.18" height="15.11" fill="#0989f6"/>
<rect x="554.50" y="129.50" width="15.18" height="15.11" fill="#0ceaf9"/>
<rect x="569.38" y="129.50" width="15.18" height="15.11" fill="#0bcdf8"/>
<rect x="584.25" y="129.50" width="15.18" height="15.11" fill="#0abaf8"/>
<rect x="599.12" y="129.50" width="15.18" height="15.11" fill="#40f9c5"/>
<rect x="376.00" y="144.31" width="15.18" height="15.11" fill="#f8c40b"/>
<rect x="390.88" y="144.31" width="15.18" height="15.11" fill="#f79d0a"/>
<rect x="405.75" y="144.31" width="15.18" height="15.11" fill="#f8c40b"/>
<rect x="420.62" y="144.31" width="15.18" height="15.11" fill="#f54f08"/>
<rect x="435.50" y="144.31" width="15.18" height="15.11" fill="#9c0404"/>
<rect x="450.38" y="144.31" width="15.18" height="15.11" fill="#cef937"/>
<rect x="465.25" y="144.31" width="15.18" height="15.11" fill="#060bf3"/>
<rect x="480.12" y="144.31" width="15.18" height="15.11" fill="#0976f6"/>
<rect x="495.00" y="144.31" width="15.18" height="15.11" fill="#0ceaf9"/>
<rect x="509.88" y="144.31" width="15.18" height="15.11" fill="#03037a"/>
<rect x="524.75" y="144.31" width="15.18" height="15.11" fill="#f8c40b"/>
<rect x="539.62" y="144.31" width="15.18" height="15.11" fill="#0bcdf8"/>
<rect x="554.50" y="144.31" width="15.18" height="15.11" fill="#0976f6"/>
<rect x="569.38" y="144.31" width="15.18" height="15.11" fill="#060bf3"/>
<rect x="584.25" y="144.31" width="15.18" height="15.11" fill="#f8c40b"/>
<rect x="599.12" y="144.31" width="15.18" height="15.11" fill="#cef937"/>
<rect x="376.00" y="159.12" width="15.18" height="15.11" fill="#0be1f8"/>
<rect x="390.88" y="159.12" width="15.18" height="15.11" fill="#f54507"/>
<rect x="405.75" y="159.12" width="15.18" height="15.11" fill="#c5f940"/>
<rect x="420.62" y="159.12" width="15.18" height="15.11" fill="#e90606"/>
<rect x="435.50" y="159.12" width="15.18" height="15.11" fill="#e90606"/>
<rect x="450.38" y="159.12" width="15.18" height="15.11" fill="#c5f940"/>
<rect x="465.25" y="159.12" width="15.18" height="15.11" fill="#f79309"/>
<rect x="480.12" y="159.12" width="15.18" height="15.11" fill="#f8c40b"/>
<rect x="495.00" y="159.12" width="15.18" height="15.11" fill="#f9ea0c"/>
<rect x="509.88" y="159.12" width="15.18" height="15.11" fill="#f8c40b"/>
<rect x="524.75" y="159.12" width="15.18" height="15.11" fill="#03037a"/>
<rect x="539.62" y="159.12" width="15.18" height="15.11" fill="#f9ea0c"/>
<rect x="554.50" y="159.12" width="15.18" height="15.11" fill="#f9f40c"/>
<rect x="569.38" y="159.12" width="15.18" height="15.11" fill="#f4f911"/>
<rect x="584.25" y="159.12" width="15.18" height="15.11" fill="#f8d70b"/>
<rect x="599.12" y="159.12" width="15.18" height="15.11" fill="#f8d70b"/>
<rect x="376.00" y="173.94" width="15.18" height="15.11" fill="#0989f6"/>
<rect x="390.88" y="173.94" width="15.18" height="15.11" fill="#f4f911"/>
<rect x="405.75" y="173.94" width="15.18" height="15.11" fill="#cef937"/>
<rect x="420.62" y="173.94" width="15.18" height="15.11" fill="#24f9e1"/>
<rect x="435.50" y="173.94" width="15.18" height="15.11" fill="#c5f940"/>
<rect x="450.38" y="173.94" width="15.18" height="15.11" fill="#0abaf8"/>
<rect x="465.25" y="173.94" width="15.18" height="15.11" fill="#0ceaf9"/>
<rect x="480.12" y="173.94" width="15.18" height="15.11" fill="#0ab0f7"/>
<rect x="495.00" y="173.94" width="15.18" height="15.11" fill="#0989f6"/>
<rect x="509.88" y="173.94" width="15.18" height="15.11" fill="#0bcdf8"/>
<rect x="524.75" y="173.94" width="15.18" height="15.11" fill="#f9ea0c"/>
<rect x="539.62" y="173.94" width="15.18" height="15.11" fill="#03037a"/>
<rect x="554.50" y="173.94" width="15.18" height="15.11" fill="#0ceaf9"/>
<rect x="569.38" y="173.94" width="15.18" height="15.11" fill="#084ff5"/>
<rect x="584.25" y="173.94" width="15.18" height="15.11" fill="#f68009"/>
<rect x="599.12" y="173.94" width="15.18" height="15.11" fill="#82f982"/>
<rect x="376.00" y="188.75" width="15.18" height="15.11" fill="#95f970"/>
<rect x="390.88" y="188.75" width="15.18" height="15.11" fill="#0980f6"/>
<rect x="405.75" y="188.75" width="15.18" height="15.11" fill="#0993f7"/>
<rect x="420.62" y="188.75" width="15.18" height="15.11" fill="#0cf4f9"/>
<rect x="435.50" y="188.75" width="15.18" height="15.11" fill="#071ef4"/>
<rect x="450.38" y="188.75" width="15.18" height="15.11" fill="#0976f6"/>
<rect x="465.25" y="188.75" width="15.18" height="15.11" fill="#0606ee"/>
<rect x="480.12" y="188.75" width="15.18" height="15.11" fill="#0404a0"/>
<rect x="495.00" y="188.75" width="15.18" height="15.11" fill="#0ceaf9"/>
<rect x="509.88" y="188.75" width="15.18" height="15.11" fill="#0976f6"/>
<rect x="524.75" y="188.75" width="15.18" height="15.11" fill="#f9f40c"/>
<rect x="539.62" y="188.75" width="15.18" height="15.11" fill="#0ceaf9"/>
<rect x="554.50" y="188.75" width="15.18" height="15.11" fill="#03037a"/>
<rect x="569.38" y="188.75" width="15.18" height="15.11" fill="#0bd7f8"/>
<rect x="584.25" y="188.75" width="15.18" height="15.11" fill="#0ab0f7"/>
<rect x="599.12" y="188.75" width="15.18" height="15.11" fill="#0615f3"/>
<rect x="376.00" y="203.56" width="15.18" height="15.11" fill="#0cf4f9"/>
<rect x="390.88" y="203.56" width="15.18" height="15.11" fill="#c5f940"/>
<rect x="405.75" y="203.56" width="15.18" height="15.11" fill="#086cf6"/>
<rect x="420.62" y="203.56" width="15.18" height="15.11" fill="#c5f940"/>
<rect x="435.50" y="203.56" width="15.18" height="15.11" fill="#0ab0f7"/>
<rect x="450.38" y="203.56" width="15.18" height="15.11" fill="#084ff5"/>
<rect x="465.25" y="203.56" width="15.18" height="15.11" fill="#0980f6"/>
<rect x="480.12" y="203.56" width="15.18" height="15.11" fill="#4af9bb"/>
<rect x="495.00" y="203.56" width="15.18" height="15.11" fill="#0bcdf8"/>
<rect x="509.88" y="203.56" width="15.18" height="15.11" fill="#060bf3"/>
<rect x="524.75" y="203.56" width="15.18" height="15.11" fill="#f4f911"/>
<rect x="539.62" y="203.56" width="15.18" height="15.11" fill="#084ff5"/>
<rect x="554.50" y="203.56" width="15.18" height="15.11" fill="#0bd7f8"/>
<rect x="569.38" y="203.56" width="15.18" height="15.11" fill="#03037a"/>
<rect x="584.25" y="203.56" width="15.18" height="15.11" fill="#0cf4f9"/>
<rect x="599.12" y="203.56" width="15.18" height="15.11" fill="#11f9f4"/>
<rect x="376.00" y="218.38" width="15.18" height="15.11" fill="#0ceaf9"/>
<rect x="390.88" y="218.38" width="15.18" height="15.11" fill="#f54f08"/>
<rect x="405.75" y="218.38" width="15.18" height="15.11" fill="#53f9b2"/>
<rect x="420.62" y="218.38" width="15.18" height="15.11" fill="#f8cd0b"/>
<rect x="435.50" y="218.38" width="15.18" height="15.11" fill="#f8cd0b"/>
<rect x="450.38" y="218.38" width="15.18" height="15.11" fill="#0993f7"/>
<rect x="465.25" y="218.38" width="15.18" height="15.11" fill="#0a9df7"/>
<rect x="480.12" y="218.38" width="15.18" height="15.11" fill="#0993f7"/>
<rect x="495.00" y="218.38" width="15.18" height="15.11" fill="#0abaf8"/>
<rect x="509.88" y="218.38" width="15.18" height="15.11" fill="#f8c40b"/>
<rect x="524.75" y="218.38" width="15.18" height="15.11" fill="#f8d70b"/>
<rect x="539.62" y="218.38" width="15.18" height="15.11" fill="#f68009"/>
<rect x="554.50" y="218.38" width="15.18" height="15.11" fill="#0ab0f7"/>
<rect x="569.38" y="218.38" width="15.18" height="15.11" fill="#0cf4f9"/>
<rect x="584.25" y="218.38" width="15.18" height="15.11" fill="#03037a"/>
<rect x="599.12" y="218.38" width="15.18" height="15.11" fill="#0bcdf8"/>
<rect x="376.00" y="233.19" width="15.18" height="15.11" fill="#66f99f"/>
<rect x="390.88" y="233.19" width="15.18" height="15.11" fill="#f4f911"/>
<rect x="405.75" y="233.19" width="15.18" height="15.11" fill="#bbf94a"/>
<rect x="420.62" y="233.19" width="15.18" height="15.11" fill="#e1f924"/>
<rect x="435.50" y="233.19" width="15.18" height="15.11" fill="#0bd7f8"/>
<rect x="450.38" y="233.19" width="15.18" height="15.11" fill="#11f9f4"/>
<rect x="465.25" y="233.19" width="15.18" height="15.11" fill="#03038d"/>
<rect x="480.12" y="233.19" width="15.18" height="15.11" fill="#40f9c5"/>
<rect x="495.00" y="233.19" width="15.18" height="15.11" fill="#40f9c5"/>
<rect x="509.88" y="233.19" width="15.18" height="15.11" fill="#cef937"/>
<rect x="524.75" y="233.19" width="15.18" height="15.11" fill="#f8d70b"/>
<rect x="539.62" y="233.19" width="15.18" height="15.11" fill="#82f982"/>
<rect x="554.50" y="233.19" width="15.18" height="15.11" fill="#0615f3"/>
<rect x="569.38" y="233.19" width="15.18" height="15.11" fill="#11f9f4"/>
<rect x="584.25" y="233.19" width="15.18" height="15.11" fill="#0bcdf8"/>
<rect x="599.12" y="233.19" width="15.18" height="15.11" fill="#03037a"/>
<text x="383.44" y="21.05" font-size="8.0" fill="#000018" fill-opacity="0.7" text-anchor="middle" style="font-family:'Liberation Serif',serif">1</text>
<text x="398.31" y="35.86" font-size="8.0" fill="#000018" fill-opacity="0.7" text-anchor="middle" style="font-family:'Liberation Serif',serif">2</text>
<text x="413.19" y="50.67" font-size="8.0" fill="#000018" fill-opacity="0.7" text-anchor="middle" style="font-family:'Liberation Serif',serif">3</text>
<text x="428.06" y="65.48" font-size="8.0" fill="#000018" fill-opacity="0.7" text-anchor="middle" style="font-family:'Liberation Serif',serif">4</text>
<text x="442.94" y="80.30" font-size="8.0" fill="#000018" fill-opacity="0.7" text-anchor="middle" style="font-family:'Liberation Serif',serif">5</text>
<text x="457.81" y="95.11" font-size="8.0" fill="#000018" fill-opacity="0.7" text-anchor="middle" style="font-family:'Liberation Serif',serif">6</text>
<text x="472.69" y="109.92" font-size="8.0" fill="#000018" fill-opacity="0.7" text-anchor="middle" style="font-family:'Liberation Serif',serif">7</text>
<text x="487.56" y="124.73" font-size="8.0" fill="#000018" fill-opacity="0.7" text-anchor="middle" style="font-family:'Liberation Serif',serif">8</text>
<text x="502.44" y="139.55" font-size="8.0" fill="#000018" fill-opacity="0.7" text-anchor="middle" style="font-family:'Liberation Serif',serif">9</text>
<text x="517.31" y="154.36" font-size="8.0" fill="#000018" fill-opacity="0.7" text-anchor="middle" style="font-family:'Liberation Serif',serif">10</text>
<text x="532.19" y="169.17" font-size="8.0" fill="#000018" fill-opacity="0.7" text-anchor="middle" style="font-family:'Liberation Serif',serif">11</text>
<text x="547.06" y="183.98" font-size="8.0" fill="#000018" fill-opacity="0.7" text-anchor="middle" style="font-family:'Liberation Serif',serif">12</text>
<text x="561.94" y="198.80" font-size="8.0" fill="#000018" fill-opacity="0.7" text-anchor="middle" style="font-family:'Liberation Serif',serif">13</text>
<text x="576.81" y="213.61" font-size="8.0" fill="#000018" fill-opacity="0.7" text-anchor="middle" style="font-family:'Liberation Serif',serif">14</text>
<text x="591.69" y="228.42" font-size="8.0" fill="#000018" fill-opacity="0.7" text-anchor="middle" style="font-family:'Liberation Serif',serif">15</text>
<text x="606.56" y="243.23" font-size="8.0" fill="#000018" fill-opacity="0.7" text-anchor="middle" style="font-family:'Liberation Serif',serif">16</text>
<line x1="435.50" y1="11.00" x2="435.50" y2="248.00" stroke="#f4f4f4" stroke-width="0.8" stroke-opacity="0.85"/>
<line x1="376.00" y1="70.25" x2="614.00" y2="70.25" stroke="#f4f4f4" stroke-width="0.8" stroke-opacity="0.85"/>
<line x1="465.25" y1="11.00" x2="465.25" y2="248.00" stroke="#f4f4f4" stroke-width="0.8" stroke-opacity="0.85"/>
<line x1="376.00" y1="99.88" x2="614.00" y2="99.88" stroke="#f4f4f4" stroke-width="0.8" stroke-opacity="0.85"/>
<line x1="480.12" y1="11.00" x2="480.12" y2="248.00" stroke="#f4f4f4" stroke-width="0.8" stroke-opacity="0.85"/>
<line x1="376.00" y1="114.69" x2="614.00" y2="114.69" stroke="#f4f4f4" stroke-width="0.8" stroke-opacity="0.85"/>
<line x1="509.88" y1="11.00" x2="509.88" y2="248.00" stroke="#f4f4f4" stroke-width="0.8" stroke-opacity="0.85"/>
<line x1="376.00" y1="144.31" x2="614.00" y2="144.31" stroke="#f4f4f4" stroke-width="0.8" stroke-opacity="0.85"/>
<line x1="524.75" y1="11.00" x2="524.75" y2="248.00" stroke="#f4f4f4" stroke-width="0.8" stroke-opacity="0.85"/>
<line x1="376.00" y1="159.12" x2="614.00" y2="159.12" stroke="#f4f4f4" stroke-width="0.8" stroke-opacity="0.85"/>
<line x1="569.38" y1="11.00" x2="569.38" y2="248.00" stroke="#f4f4f4" stroke-width="0.8" stroke-opacity="0.85"/>
<line x1="376.00" y1="203.56" x2="614.00" y2="203.56" stroke="#f4f4f4" stroke-width="0.8" stroke-opacity="0.85"/>
<line x1="584.25" y1="11.00" x2="584.25" y2="248.00" stroke="#f4f4f4" stroke-width="0.8" stroke-opacity="0.85"/>
<line x1="376.00" y1="218.38" x2="614.00" y2="218.38" stroke="#f4f4f4" stroke-width="0.8" stroke-opacity="0.85"/>
<line x1="599.12" y1="11.00" x2="599.12" y2="248.00" stroke="#f4f4f4" stroke-width="0.8" stroke-opacity="0.85"/>
<line x1="376.00" y1="233.19" x2="614.00" y2="233.19" stroke="#f4f4f4" stroke-width="0.8" stroke-opacity="0.85"/>
<line x1="390.88" y1="11.00" x2="390.88" y2="248.00" stroke="#1a1a1a" stroke-width="0.9"/>
<line x1="376.00" y1="25.81" x2="614.00" y2="25.81" stroke="#1a1a1a" stroke-width="0.9"/>
<line x1="405.75" y1="11.00" x2="405.75" y2="248.00" stroke="#1a1a1a" stroke-width="0.9"/>
<line x1="376.00" y1="40.62" x2="614.00" y2="40.62" stroke="#1a1a1a" stroke-width="0.9"/>
<line x1="420.62" y1="11.00" x2="420.62" y2="248.00" stroke="#1a1a1a" stroke-width="0.9"/>
<line x1="376.00" y1="55.44" x2="614.00" y2="55.44" stroke="#1a1a1a" stroke-width="0.9"/>
<line x1="450.38" y1="11.00" x2="450.38" y2="248.00" stroke="#1a1a1a" stroke-width="0.9"/>
<line x1="376.00" y1="85.06" x2="614.00" y2="85.06" stroke="#1a1a1a" stroke-width="0.9"/>
<line x1="495.00" y1="11.00" x2="495.00" y2="248.00" stroke="#1a1a1a" stroke-width="0.9"/>
<line x1="376.00" y1="129.50" x2="614.00" y2="129.50" stroke="#1a1a1a" stroke-width="0.9"/>
<line x1="539.62" y1="11.00" x2="539.62" y2="248.00" stroke="#1a1a1a" stroke-width="0.9"/>
<line x1="376.00" y1="173.94" x2="614.00" y2="173.94" stroke="#1a1a1a" stroke-width="0.9"/>
<line x1="554.50" y1="11.00" x2="554.50" y2="248.00" stroke="#1a1a1a" stroke-width="0.9"/>
<line x1="376.00" y1="188.75" x2="614.00" y2="188.75" stroke="#1a1a1a" stroke-width="0.9"/>
<rect x="376.00" y="11.00" width="238.00" height="237.00" fill="none" stroke="#333" stroke-width="0.9"/>
<text x="371.3" y="24.24" font-size="10" fill="#111" text-anchor="end">9</text>
<text x="371.3" y="39.11" font-size="10" fill="#111" text-anchor="end">10</text>
<text x="371.3" y="53.99" font-size="10" fill="#111" text-anchor="end">40</text>
<text x="371.3" y="68.86" font-size="10" fill="#111" text-anchor="end">24</text>
<text x="371.3" y="83.74" font-size="10" fill="#111" text-anchor="end">28</text>
<text x="371.3" y="98.61" font-size="10" fill="#111" text-anchor="end">1</text>
<text x="371.3" y="113.49" font-size="10" fill="#111" text-anchor="end">20</text>
<text x="371.3" y="128.36" font-size="10" fill="#111" text-anchor="end">27</text>
<text x="371.3" y="143.24" font-size="10" fill="#111" text-anchor="end">7</text>
<text x="371.3" y="158.11" font-size="10" fill="#111" text-anchor="end">37</text>
<text x="371.3" y="172.99" font-size="10" fill="#111" text-anchor="end">39</text>
<text x="371.3" y="187.86" font-size="10" fill="#111" text-anchor="end">42</text>
<text x="371.3" y="202.74" font-size="10" fill="#111" text-anchor="end">11</text>
<text x="371.3" y="217.61" font-size="10" fill="#111" text-anchor="end">16</text>
<text x="371.3" y="232.49" font-size="10" fill="#111" text-anchor="end">17</text>
<text x="371.3" y="247.36" font-size="10" fill="#111" text-anchor="end">19</text>
<text x="355.6" y="23.34" font-size="10" fill="#111" text-anchor="end">AUD</text>
<text x="355.6" y="38.21" font-size="10" fill="#111" text-anchor="end">DMN</text>
<text x="355.6" y="53.09" font-size="10" fill="#111" text-anchor="end">L.FPN</text>
<text x="355.6" y="75.40" font-size="10" fill="#111" text-anchor="end">R.FPN</text>
<text x="355.6" y="112.59" font-size="10" fill="#111" text-anchor="end">SMN</text>
<text x="355.6" y="157.21" font-size="10" fill="#111" text-anchor="end">DAN</text>
<text x="355.6" y="186.96" font-size="10" fill="#111" text-anchor="end">VAN</text>
<text x="355.6" y="224.15" font-size="10" fill="#111" text-anchor="end">VIS</text>
<text transform="translate(389.50,253.3) rotate(-90)" font-size="10" fill="#111" text-anchor="end">AUD</text>
<text transform="translate(403.00,253.3) rotate(-90)" font-size="10" fill="#111" text-anchor="end">DMN</text>
<text transform="translate(418.00,253.3) rotate(-90)" font-size="10" fill="#111" text-anchor="end">L.FPN</text>
<text transform="translate(440.50,253.3) rotate(-90)" font-size="10" fill="#111" text-anchor="end">R.FPN</text>
<text transform="translate(479.40,253.3) rotate(-90)" font-size="10" fill="#111" text-anchor="end">SMN</text>
<text transform="translate(524.50,253.3) rotate(-90)" font-size="10" fill="#111" text-anchor="end">DAN</text>
<text transform="translate(552.70,253.3) rotate(-90)" font-size="10" fill="#111" text-anchor="end">VAN</text>
<text transform="translate(588.80,253.3) rotate(-90)" font-size="10" fill="#111" text-anchor="end">VIS</text>
<rect x="623.20" y="11.20" width="20.20" height="236.80" fill="url(#jet)" stroke="#333" stroke-width="0.8"/>
<line x1="641.20" y1="26.05" x2="643.40" y2="26.05" stroke="#222" stroke-width="0.8"/>
<text x="649.30" y="29.65" font-size="10" fill="#111">3.2</text>
<line x1="641.20" y1="56.90" x2="643.40" y2="56.90" stroke="#222" stroke-width="0.8"/>
<text x="649.30" y="60.50" font-size="10" fill="#111">3.1</text>
<line x1="641.20" y1="86.00" x2="643.40" y2="86.00" stroke="#222" stroke-width="0.8"/>
<text x="649.30" y="89.60" font-size="10" fill="#111">3</text>
<line x1="641.20" y1="116.20" x2="643.40" y2="116.20" stroke="#222" stroke-width="0.8"/>
<text x="649.30" y="119.80" font-size="10" fill="#111">2.9</text>
<line x1="641.20" y1="145.70" x2="643.40" y2="145.70" stroke="#222" stroke-width="0.8"/>
<text x="649.30" y="149.30" font-size="10" fill="#111">2.8</text>
<line x1="641.20" y1="175.10" x2="643.40" y2="175.10" stroke="#222" stroke-width="0.8"/>
<text x="649.30" y="178.70" font-size="10" fill="#111">2.7</text>
<line x1="641.20" y1="205.80" x2="643.40" y2="205.80" stroke="#222" stroke-width="0.8"/>
<text x="649.30" y="209.40" font-size="10" fill="#111">2.6</text>
<line x1="641.20" y1="240.55" x2="643.40" y2="240.55" stroke="#222" stroke-width="0.8"/>
<text x="649.30" y="244.15" font-size="10" fill="#111">2.5</text>
<text transform="translate(682.6,134.1) rotate(-90)" font-size="10.3" fill="#111" text-anchor="middle">Correlations(z)</text>
<rect x="371.00" y="310.00" width="20.57" height="20.62" fill="#03037a"/>
<rect x="391.27" y="310.00" width="20.57" height="20.62" fill="#95f970"/>
<rect x="411.55" y="310.00" width="20.57" height="20.62" fill="#37f9ce"/>
<rect x="431.82" y="310.00" width="20.57" height="20.62" fill="#0862f5"/>
<rect x="452.10" y="310.00" width="20.57" height="20.62" fill="#f8ba0a"/>
<rect x="472.38" y="310.00" width="20.57" height="20.62" fill="#040497"/>
<rect x="492.65" y="310.00" width="20.57" height="20.62" fill="#0606ee"/>
<rect x="512.92" y="310.00" width="20.57" height="20.62" fill="#f54f08"/>
<rect x="533.20" y="310.00" width="20.57" height="20.62" fill="#f9e60b"/>
<rect x="553.47" y="310.00" width="20.57" height="20.62" fill="#82f982"/>
<rect x="573.75" y="310.00" width="20.57" height="20.62" fill="#24f9e1"/>
<rect x="594.02" y="310.00" width="20.57" height="20.62" fill="#c5f940"/>
<rect x="371.00" y="330.32" width="20.57" height="20.62" fill="#95f970"/>
<rect x="391.27" y="330.32" width="20.57" height="20.62" fill="#03037a"/>
<rect x="411.55" y="330.32" width="20.57" height="20.62" fill="#7a0303"/>
<rect x="431.82" y="330.32" width="20.57" height="20.62" fill="#f43207"/>
<rect x="452.10" y="330.32" width="20.57" height="20.62" fill="#0ceaf9"/>
<rect x="472.38" y="330.32" width="20.57" height="20.62" fill="#0bc4f8"/>
<rect x="492.65" y="330.32" width="20.57" height="20.62" fill="#cef937"/>
<rect x="512.92" y="330.32" width="20.57" height="20.62" fill="#d8f92d"/>
<rect x="533.20" y="330.32" width="20.57" height="20.62" fill="#bbf94a"/>
<rect x="553.47" y="330.32" width="20.57" height="20.62" fill="#4af9bb"/>
<rect x="573.75" y="330.32" width="20.57" height="20.62" fill="#0aa6f7"/>
<rect x="594.02" y="330.32" width="20.57" height="20.62" fill="#f4f911"/>
<rect x="371.00" y="350.65" width="20.57" height="20.62" fill="#37f9ce"/>
<rect x="391.27" y="350.65" width="20.57" height="20.62" fill="#7a0303"/>
<rect x="411.55" y="350.65" width="20.57" height="20.62" fill="#03037a"/>
<rect x="431.82" y="350.65" width="20.57" height="20.62" fill="#f56208"/>
<rect x="452.10" y="350.65" width="20.57" height="20.62" fill="#cef937"/>
<rect x="472.38" y="350.65" width="20.57" height="20.62" fill="#b2f953"/>
<rect x="492.65" y="350.65" width="20.57" height="20.62" fill="#0606ee"/>
<rect x="512.92" y="350.65" width="20.57" height="20.62" fill="#0ceaf9"/>
<rect x="533.20" y="350.65" width="20.57" height="20.62" fill="#f79309"/>
<rect x="553.47" y="350.65" width="20.57" height="20.62" fill="#cef937"/>
<rect x="573.75" y="350.65" width="20.57" height="20.62" fill="#0a9df7"/>
<rect x="594.02" y="350.65" width="20.57" height="20.62" fill="#0be1f8"/>
<rect x="371.00" y="370.98" width="20.57" height="20.62" fill="#0862f5"/>
<rect x="391.27" y="370.98" width="20.57" height="20.62" fill="#f43207"/>
<rect x="411.55" y="370.98" width="20.57" height="20.62" fill="#f56208"/>
<rect x="431.82" y="370.98" width="20.57" height="20.62" fill="#03037a"/>
<rect x="452.10" y="370.98" width="20.57" height="20.62" fill="#f43b07"/>
<rect x="472.38" y="370.98" width="20.57" height="20.62" fill="#95f970"/>
<rect x="492.65" y="370.98" width="20.57" height="20.62" fill="#e1f924"/>
<rect x="512.92" y="370.98" width="20.57" height="20.62" fill="#f68909"/>
<rect x="533.20" y="370.98" width="20.57" height="20.62" fill="#e90606"/>
<rect x="553.47" y="370.98" width="20.57" height="20.62" fill="#70f995"/>
<rect x="573.75" y="370.98" width="20.57" height="20.62" fill="#bbf94a"/>
<rect x="594.02" y="370.98" width="20.57" height="20.62" fill="#8cf979"/>
<rect x="371.00" y="391.30" width="20.57" height="20.62" fill="#f8ba0a"/>
<rect x="391.27" y="391.30" width="20.57" height="20.62" fill="#0ceaf9"/>
<rect x="411.55" y="391.30" width="20.57" height="20.62" fill="#cef937"/>
<rect x="431.82" y="391.30" width="20.57" height="20.62" fill="#f43b07"/>
<rect x="452.10" y="391.30" width="20.57" height="20.62" fill="#03037a"/>
<rect x="472.38" y="391.30" width="20.57" height="20.62" fill="#cef937"/>
<rect x="492.65" y="391.30" width="20.57" height="20.62" fill="#0be1f8"/>
<rect x="512.92" y="391.30" width="20.57" height="20.62" fill="#82f982"/>
<rect x="533.20" y="391.30" width="20.57" height="20.62" fill="#37f9ce"/>
<rect x="553.47" y="391.30" width="20.57" height="20.62" fill="#82f982"/>
<rect x="573.75" y="391.30" width="20.57" height="20.62" fill="#f43207"/>
<rect x="594.02" y="391.30" width="20.57" height="20.62" fill="#0abaf8"/>
<rect x="371.00" y="411.62" width="20.57" height="20.62" fill="#040497"/>
<rect x="391.27" y="411.62" width="20.57" height="20.62" fill="#0bc4f8"/>
<rect x="411.55" y="411.62" width="20.57" height="20.62" fill="#b2f953"/>
<rect x="431.82" y="411.62" width="20.57" height="20.62" fill="#95f970"/>
<rect x="452.10" y="411.62" width="20.57" height="20.62" fill="#cef937"/>
<rect x="472.38" y="411.62" width="20.57" height="20.62" fill="#03037a"/>
<rect x="492.65" y="411.62" width="20.57" height="20.62" fill="#0862f5"/>
<rect x="512.92" y="411.62" width="20.57" height="20.62" fill="#0a9df7"/>
<rect x="533.20" y="411.62" width="20.57" height="20.62" fill="#0ab0f7"/>
<rect x="553.47" y="411.62" width="20.57" height="20.62" fill="#0505db"/>
<rect x="573.75" y="411.62" width="20.57" height="20.62" fill="#071ef4"/>
<rect x="594.02" y="411.62" width="20.57" height="20.62" fill="#37f9ce"/>
<rect x="371.00" y="431.95" width="20.57" height="20.62" fill="#0606ee"/>
<rect x="391.27" y="431.95" width="20.57" height="20.62" fill="#cef937"/>
<rect x="411.55" y="431.95" width="20.57" height="20.62" fill="#0606ee"/>
<rect x="431.82" y="431.95" width="20.57" height="20.62" fill="#e1f924"/>
<rect x="452.10" y="431.95" width="20.57" height="20.62" fill="#0be1f8"/>
<rect x="472.38" y="431.95" width="20.57" height="20.62" fill="#0862f5"/>
<rect x="492.65" y="431.95" width="20.57" height="20.62" fill="#03037a"/>
<rect x="512.92" y="431.95" width="20.57" height="20.62" fill="#53f9b2"/>
<rect x="533.20" y="431.95" width="20.57" height="20.62" fill="#0bd7f8"/>
<rect x="553.47" y="431.95" width="20.57" height="20.62" fill="#0bc4f8"/>
<rect x="573.75" y="431.95" width="20.57" height="20.62" fill="#0993f7"/>
<rect x="594.02" y="431.95" width="20.57" height="20.62" fill="#37f9ce"/>
<rect x="371.00" y="452.27" width="20.57" height="20.62" fill="#f54f08"/>
<rect x="391.27" y="452.27" width="20.57" height="20.62" fill="#d8f92d"/>
<rect x="411.55" y="452.27" width="20.57" height="20.62" fill="#0ceaf9"/>
<rect x="431.82" y="452.27" width="20.57" height="20.62" fill="#f68909"/>
<rect x="452.10" y="452.27" width="20.57" height="20.62" fill="#82f982"/>
<rect x="472.38" y="452.27" width="20.57" height="20.62" fill="#0a9df7"/>
<rect x="492.65" y="452.27" width="20.57" height="20.62" fill="#53f9b2"/>
<rect x="512.92" y="452.27" width="20.57" height="20.62" fill="#03037a"/>
<rect x="533.20" y="452.27" width="20.57" height="20.62" fill="#0615f3"/>
<rect x="553.47" y="452.27" width="20.57" height="20.62" fill="#e1f924"/>
<rect x="573.75" y="452.27" width="20.57" height="20.62" fill="#0993f7"/>
<rect x="594.02" y="452.27" width="20.57" height="20.62" fill="#0bd7f8"/>
<rect x="371.00" y="472.60" width="20.57" height="20.62" fill="#f9e60b"/>
<rect x="391.27" y="472.60" width="20.57" height="20.62" fill="#bbf94a"/>
<rect x="411.55" y="472.60" width="20.57" height="20.62" fill="#f79309"/>
<rect x="431.82" y="472.60" width="20.57" height="20.62" fill="#e90606"/>
<rect x="452.10" y="472.60" width="20.57" height="20.62" fill="#37f9ce"/>
<rect x="472.38" y="472.60" width="20.57" height="20.62" fill="#0ab0f7"/>
<rect x="492.65" y="472.60" width="20.57" height="20.62" fill="#0bd7f8"/>
<rect x="512.92" y="472.60" width="20.57" height="20.62" fill="#0615f3"/>
<rect x="533.20" y="472.60" width="20.57" height="20.62" fill="#03037a"/>
<rect x="553.47" y="472.60" width="20.57" height="20.62" fill="#f68909"/>
<rect x="573.75" y="472.60" width="20.57" height="20.62" fill="#f8d70b"/>
<rect x="594.02" y="472.60" width="20.57" height="20.62" fill="#0976f6"/>
<rect x="371.00" y="492.92" width="20.57" height="20.62" fill="#82f982"/>
<rect x="391.27" y="492.92" width="20.57" height="20.62" fill="#4af9bb"/>
<rect x="411.55" y="492.92" width="20.57" height="20.62" fill="#cef937"/>
<rect x="431.82" y="492.92" width="20.57" height="20.62" fill="#70f995"/>
<rect x="452.10" y="492.92" width="20.57" height="20.62" fill="#82f982"/>
<rect x="472.38" y="492.92" width="20.57" height="20.62" fill="#0505db"/>
<rect x="492.65" y="492.92" width="20.57" height="20.62" fill="#0bc4f8"/>
<rect x="512.92" y="492.92" width="20.57" height="20.62" fill="#e1f924"/>
<rect x="533.20" y="492.92" width="20.57" height="20.62" fill="#f68909"/>
<rect x="553.47" y="492.92" width="20.57" height="20.62" fill="#03037a"/>
<rect x="573.75" y="492.92" width="20.57" height="20.62" fill="#0a9df7"/>
<rect x="594.02" y="492.92" width="20.57" height="20.62" fill="#f68009"/>
<rect x="371.00" y="513.25" width="20.57" height="20.62" fill="#24f9e1"/>
<rect x="391.27" y="513.25" width="20.57" height="20.62" fill="#0aa6f7"/>
<rect x="411.55" y="513.25" width="20.57" height="20.62" fill="#0a9df7"/>
<rect x="431.82" y="513.25" width="20.57" height="20.62" fill="#bbf94a"/>
<rect x="452.10" y="513.25" width="20.57" height="20.62" fill="#f43207"/>
<rect x="472.38" y="513.25" width="20.57" height="20.62" fill="#071ef4"/>
<rect x="492.65" y="513.25" width="20.57" height="20.62" fill="#0993f7"/>
<rect x="512.92" y="513.25" width="20.57" height="20.62" fill="#0993f7"/>
<rect x="533.20" y="513.25" width="20.57" height="20.62" fill="#f8d70b"/>
<rect x="553.47" y="513.25" width="20.57" height="20.62" fill="#0a9df7"/>
<rect x="573.75" y="513.25" width="20.57" height="20.62" fill="#03037a"/>
<rect x="594.02" y="513.25" width="20.57" height="20.62" fill="#f7b00a"/>
<rect x="371.00" y="533.58" width="20.57" height="20.62" fill="#c5f940"/>
<rect x="391.27" y="533.58" width="20.57" height="20.62" fill="#f4f911"/>
<rect x="411.55" y="533.58" width="20.57" height="20.62" fill="#0be1f8"/>
<rect x="431.82" y="533.58" width="20.57" height="20.62" fill="#8cf979"/>
<rect x="452.10" y="533.58" width="20.57" height="20.62" fill="#0abaf8"/>
<rect x="472.38" y="533.58" width="20.57" height="20.62" fill="#37f9ce"/>
<rect x="492.65" y="533.58" width="20.57" height="20.62" fill="#37f9ce"/>
<rect x="512.92" y="533.58" width="20.57" height="20.62" fill="#0bd7f8"/>
<rect x="533.20" y="533.58" width="20.57" height="20.62" fill="#0976f6"/>
<rect x="553.47" y="533.58" width="20.57" height="20.62" fill="#f68009"/>
<rect x="573.75" y="533.58" width="20.57" height="20.62" fill="#f7b00a"/>
<rect x="594.02" y="533.58" width="20.57" height="20.62" fill="#03037a"/>
<text x="381.14" y="323.13" font-size="9.0" fill="#000018" fill-opacity="0.7" text-anchor="middle" style="font-family:'Liberation Serif',serif">1</text>
<text x="401.41" y="343.46" font-size="9.0" fill="#000018" fill-opacity="0.7" text-anchor="middle" style="font-family:'Liberation Serif',serif">2</text>
<text x="421.69" y="363.78" font-size="9.0" fill="#000018" fill-opacity="0.7" text-anchor="middle" style="font-family:'Liberation Serif',serif">3</text>
<text x="441.96" y="384.11" font-size="9.0" fill="#000018" fill-opacity="0.7" text-anchor="middle" style="font-family:'Liberation Serif',serif">4</text>
<text x="462.24" y="404.43" font-size="9.0" fill="#000018" fill-opacity="0.7" text-anchor="middle" style="font-family:'Liberation Serif',serif">5</text>
<text x="482.51" y="424.76" font-size="9.0" fill="#000018" fill-opacity="0.7" text-anchor="middle" style="font-family:'Liberation Serif',serif">6</text>
<text x="502.79" y="445.08" font-size="9.0" fill="#000018" fill-opacity="0.7" text-anchor="middle" style="font-family:'Liberation Serif',serif">7</text>
<text x="523.06" y="465.41" font-size="9.0" fill="#000018" fill-opacity="0.7" text-anchor="middle" style="font-family:'Liberation Serif',serif">8</text>
<text x="543.34" y="485.73" font-size="9.0" fill="#000018" fill-opacity="0.7" text-anchor="middle" style="font-family:'Liberation Serif',serif">9</text>
<text x="563.61" y="506.06" font-size="9.0" fill="#000018" fill-opacity="0.7" text-anchor="middle" style="font-family:'Liberation Serif',serif">10</text>
<text x="583.89" y="526.38" font-size="9.0" fill="#000018" fill-opacity="0.7" text-anchor="middle" style="font-family:'Liberation Serif',serif">11</text>
<text x="604.16" y="546.71" font-size="9.0" fill="#000018" fill-opacity="0.7" text-anchor="middle" style="font-family:'Liberation Serif',serif">12</text>
<line x1="391.27" y1="310.00" x2="391.27" y2="553.90" stroke="#f4f4f4" stroke-width="0.8" stroke-opacity="0.85"/>
<line x1="371.00" y1="330.32" x2="614.30" y2="330.32" stroke="#f4f4f4" stroke-width="0.8" stroke-opacity="0.85"/>
<line x1="431.82" y1="310.00" x2="431.82" y2="553.90" stroke="#f4f4f4" stroke-width="0.8" stroke-opacity="0.85"/>
<line x1="371.00" y1="370.98" x2="614.30" y2="370.98" stroke="#f4f4f4" stroke-width="0.8" stroke-opacity="0.85"/>
<line x1="512.92" y1="310.00" x2="512.92" y2="553.90" stroke="#f4f4f4" stroke-width="0.8" stroke-opacity="0.85"/>
<line x1="371.00" y1="452.27" x2="614.30" y2="452.27" stroke="#f4f4f4" stroke-width="0.8" stroke-opacity="0.85"/>
<line x1="553.47" y1="310.00" x2="553.47" y2="553.90" stroke="#f4f4f4" stroke-width="0.8" stroke-opacity="0.85"/>
<line x1="371.00" y1="492.92" x2="614.30" y2="492.92" stroke="#f4f4f4" stroke-width="0.8" stroke-opacity="0.85"/>
<line x1="573.75" y1="310.00" x2="573.75" y2="553.90" stroke="#f4f4f4" stroke-width="0.8" stroke-opacity="0.85"/>
<line x1="371.00" y1="513.25" x2="614.30" y2="513.25" stroke="#f4f4f4" stroke-width="0.8" stroke-opacity="0.85"/>
<line x1="594.02" y1="310.00" x2="594.02" y2="553.90" stroke="#f4f4f4" stroke-width="0.8" stroke-opacity="0.85"/>
<line x1="371.00" y1="533.58" x2="614.30" y2="533.58" stroke="#f4f4f4" stroke-width="0.8" stroke-opacity="0.85"/>
<line x1="411.55" y1="310.00" x2="411.55" y2="553.90" stroke="#1a1a1a" stroke-width="0.9"/>
<line x1="371.00" y1="350.65" x2="614.30" y2="350.65" stroke="#1a1a1a" stroke-width="0.9"/>
<line x1="452.10" y1="310.00" x2="452.10" y2="553.90" stroke="#1a1a1a" stroke-width="0.9"/>
<line x1="371.00" y1="391.30" x2="614.30" y2="391.30" stroke="#1a1a1a" stroke-width="0.9"/>
<line x1="472.38" y1="310.00" x2="472.38" y2="553.90" stroke="#1a1a1a" stroke-width="0.9"/>
<line x1="371.00" y1="411.62" x2="614.30" y2="411.62" stroke="#1a1a1a" stroke-width="0.9"/>
<line x1="492.65" y1="310.00" x2="492.65" y2="553.90" stroke="#1a1a1a" stroke-width="0.9"/>
<line x1="371.00" y1="431.95" x2="614.30" y2="431.95" stroke="#1a1a1a" stroke-width="0.9"/>
<line x1="533.20" y1="310.00" x2="533.20" y2="553.90" stroke="#1a1a1a" stroke-width="0.9"/>
<line x1="371.00" y1="472.60" x2="614.30" y2="472.60" stroke="#1a1a1a" stroke-width="0.9"/>
<rect x="371.00" y="310.00" width="243.30" height="243.90" fill="none" stroke="#333" stroke-width="0.9"/>
<text x="366" y="324.46" font-size="10" fill="#111" text-anchor="end">3</text>
<text x="366" y="344.79" font-size="10" fill="#111" text-anchor="end">9</text>
<text x="366" y="365.11" font-size="10" fill="#111" text-anchor="end">8</text>
<text x="366" y="385.44" font-size="10" fill="#111" text-anchor="end">22</text>
<text x="366" y="405.76" font-size="10" fill="#111" text-anchor="end">7</text>
<text x="366" y="426.09" font-size="10" fill="#111" text-anchor="end">17</text>
<text x="366" y="446.41" font-size="10" fill="#111" text-anchor="end">1</text>
<text x="366" y="466.74" font-size="10" fill="#111" text-anchor="end">2</text>
<text x="366" y="487.06" font-size="10" fill="#111" text-anchor="end">25</text>
<text x="366" y="507.39" font-size="10" fill="#111" text-anchor="end">26</text>
<text x="366" y="527.71" font-size="10" fill="#111" text-anchor="end">27</text>
<text x="366" y="548.04" font-size="10" fill="#111" text-anchor="end">29</text>
<text x="349.5" y="331.90" font-size="10" fill="#111" text-anchor="end">AUD</text>
<text x="349.5" y="375.60" font-size="10" fill="#111" text-anchor="end">DMN</text>
<text x="349.5" y="404.90" font-size="10" fill="#111" text-anchor="end">DAN</text>
<text x="349.5" y="427.40" font-size="10" fill="#111" text-anchor="end">FPN</text>
<text x="349.5" y="457.70" font-size="10" fill="#111" text-anchor="end">SMN</text>
<text x="349.5" y="519.00" font-size="10" fill="#111" text-anchor="end">VIS</text>
<text transform="translate(393.90,559.5) rotate(-90)" font-size="10" fill="#111" text-anchor="end">AUD</text>
<text transform="translate(433.60,559.5) rotate(-90)" font-size="10" fill="#111" text-anchor="end">DMN</text>
<text transform="translate(466.40,559.5) rotate(-90)" font-size="10" fill="#111" text-anchor="end">DAN</text>
<text transform="translate(487.80,559.5) rotate(-90)" font-size="10" fill="#111" text-anchor="end">FPN</text>
<text transform="translate(517.10,559.5) rotate(-90)" font-size="10" fill="#111" text-anchor="end">SMN</text>
<text transform="translate(577.90,559.5) rotate(-90)" font-size="10" fill="#111" text-anchor="end">VIS</text>
<rect x="624.10" y="310.10" width="20.40" height="243.80" fill="url(#jet)" stroke="#333" stroke-width="0.8"/>
<line x1="642.30" y1="316.35" x2="644.50" y2="316.35" stroke="#222" stroke-width="0.8"/>
<text x="650.40" y="319.95" font-size="10" fill="#111">1.75</text>
<line x1="642.30" y1="347.05" x2="644.50" y2="347.05" stroke="#222" stroke-width="0.8"/>
<text x="650.40" y="350.65" font-size="10" fill="#111">1.7</text>
<line x1="642.30" y1="379.90" x2="644.50" y2="379.90" stroke="#222" stroke-width="0.8"/>
<text x="650.40" y="383.50" font-size="10" fill="#111">1.65</text>
<line x1="642.30" y1="412.20" x2="644.50" y2="412.20" stroke="#222" stroke-width="0.8"/>
<text x="650.40" y="415.80" font-size="10" fill="#111">1.6</text>
<line x1="642.30" y1="447.80" x2="644.50" y2="447.80" stroke="#222" stroke-width="0.8"/>
<text x="650.40" y="451.40" font-size="10" fill="#111">1.55</text>
<line x1="642.30" y1="484.05" x2="644.50" y2="484.05" stroke="#222" stroke-width="0.8"/>
<text x="650.40" y="487.65" font-size="10" fill="#111">1.5</text>
<line x1="642.30" y1="518.00" x2="644.50" y2="518.00" stroke="#222" stroke-width="0.8"/>
<text x="650.40" y="521.60" font-size="10" fill="#111">1.45</text>
<line x1="642.30" y1="550.45" x2="644.50" y2="550.45" stroke="#222" stroke-width="0.8"/>
<text x="650.40" y="554.05" font-size="10" fill="#111">1.4</text>
<text transform="translate(683.4,433.8) rotate(-90)" font-size="10.3" fill="#111" text-anchor="middle">Correlations(z)</text>
</svg></body></html>
